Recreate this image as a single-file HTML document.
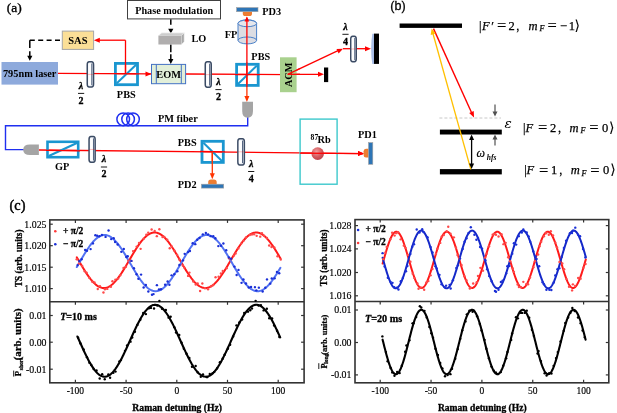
<!DOCTYPE html>
<html><head><meta charset="utf-8"><title>Figure</title>
<style>html,body{margin:0;padding:0;background:#fff;}svg{display:block;}</style></head>
<body><svg width="617" height="413" viewBox="0 0 617 413">
<rect width="617" height="413" fill="#fff"/>
<text x="6.70" y="11.90" font-family='"Liberation Serif", "Times New Roman", serif' font-size="13.5" font-weight="normal" text-anchor="start" fill="#000" stroke="#000" stroke-width="0.35">(a)</text>
<line x1="58.00" y1="73.40" x2="151.00" y2="73.90" stroke="#ff0000" stroke-width="1.3" />
<polygon points="151.50,73.90 145.50,76.40 145.50,71.40" fill="#ff0000"/>
<line x1="125.50" y1="73.60" x2="125.50" y2="40.20" stroke="#ff0000" stroke-width="1.3" />
<line x1="125.50" y1="40.20" x2="99.00" y2="40.20" stroke="#ff0000" stroke-width="1.3" />
<polygon points="93.80,40.20 99.80,37.70 99.80,42.70" fill="#ff0000"/>
<line x1="185.60" y1="74.00" x2="287.70" y2="74.60" stroke="#ff0000" stroke-width="1.3" />
<line x1="246.90" y1="74.60" x2="246.90" y2="21.00" stroke="#ff0000" stroke-width="1.3" />
<polygon points="246.90,16.80 249.40,22.80 244.40,22.80" fill="#ff0000"/>
<line x1="246.90" y1="74.60" x2="246.90" y2="97.00" stroke="#ff3300" stroke-width="1.3" />
<polygon points="246.90,102.00 244.40,96.00 249.40,96.00" fill="#ff3300"/>
<line x1="287.70" y1="74.30" x2="320.00" y2="74.30" stroke="#ff0000" stroke-width="1.3" />
<polygon points="324.00,74.30 318.00,76.80 318.00,71.80" fill="#ff0000"/>
<line x1="287.70" y1="74.30" x2="338.00" y2="50.60" stroke="#ff0000" stroke-width="1.3" />
<polygon points="343.00,48.70 338.61,53.49 336.50,48.95" fill="#ff0000"/>
<line x1="343.00" y1="48.70" x2="366.00" y2="48.70" stroke="#ff0000" stroke-width="1.3" />
<polygon points="371.00,48.70 365.00,51.20 365.00,46.20" fill="#ff0000"/>
<line x1="38.90" y1="150.00" x2="363.00" y2="153.60" stroke="#ff0000" stroke-width="1.3" />
<polygon points="364.00,153.60 357.98,156.05 358.02,151.05" fill="#ff0000"/>
<line x1="212.30" y1="151.70" x2="212.30" y2="174.00" stroke="#ff3300" stroke-width="1.3" />
<polygon points="212.30,179.20 209.80,173.20 214.80,173.20" fill="#ff3300"/>
<line x1="29.8" y1="40.2" x2="62.3" y2="40.2" stroke="#000" stroke-width="1.5" stroke-dasharray="5,3.4"/>
<line x1="29.8" y1="40.2" x2="29.8" y2="48" stroke="#000" stroke-width="1.5"/>
<line x1="29.80" y1="51.30" x2="29.80" y2="57.00" stroke="#000" stroke-width="1.5" />
<polygon points="29.80,60.80 27.20,55.80 32.40,55.80" fill="#000"/>
<line x1="170.80" y1="19.20" x2="170.80" y2="24.70" stroke="#000" stroke-width="1.5" />
<polygon points="170.80,33.60 168.20,28.80 173.40,28.80" fill="#000"/>
<line x1="170.80" y1="44.50" x2="170.80" y2="52.30" stroke="#000" stroke-width="1.5" />
<line x1="170.80" y1="54.20" x2="170.80" y2="60.00" stroke="#000" stroke-width="1.5" />
<polygon points="170.80,64.10 168.20,59.10 173.40,59.10" fill="#000"/>
<rect x="62.30" y="31.10" width="31.30" height="18.30" fill="#fbdf97" stroke="#a6a6a6" stroke-width="1" />
<text x="77.90" y="44.00" font-family='"Liberation Serif", "Times New Roman", serif' font-size="10.5" font-weight="bold" text-anchor="middle" fill="#000" >SAS</text>
<rect x="1.50" y="62.00" width="56.50" height="22.60" fill="#8eaadc" stroke="none" stroke-width="1" />
<text x="29.70" y="77.30" font-family='"Liberation Serif", "Times New Roman", serif' font-size="10.3" font-weight="bold" text-anchor="middle" fill="#000" >795nm laser</text>
<rect x="127.50" y="0.50" width="93.00" height="18.40" fill="#fff" stroke="#404040" stroke-width="1" />
<text x="174.20" y="13.80" font-family='"Liberation Serif", "Times New Roman", serif' font-size="10.8" font-weight="bold" text-anchor="middle" fill="#000" textLength="78" lengthAdjust="spacingAndGlyphs">Phase modulation</text>
<defs><linearGradient id="lotop" x1="0" y1="0" x2="0" y2="1"><stop offset="0" stop-color="#d9d9d9"/><stop offset="1" stop-color="#c4c4c4"/></linearGradient></defs>
<polygon points="158.4,35.7 161.8,32.7 184.2,32.7 181.3,35.7" fill="url(#lotop)" stroke="#f4f4f4" stroke-width="0.5"/>
<polygon points="181.3,35.7 184.2,32.7 184.2,41.8 181.3,44.5" fill="#a9a9a9" stroke="#f4f4f4" stroke-width="0.5"/>
<rect x="158.40" y="35.70" width="22.90" height="8.80" fill="#b0aeae" stroke="none" stroke-width="1" />
<text x="191.50" y="42.10" font-family='"Liberation Serif", "Times New Roman", serif' font-size="10.3" font-weight="bold" text-anchor="start" fill="#000" >LO</text>
<rect x="87.25" y="61.65" width="6.30" height="25.40" rx="1.9" ry="3.0" fill="#e9edf4" stroke="#3b4b64" stroke-width="1.5"/>
<rect x="88.30" y="63.40" width="2.96" height="21.90" fill="#ffffff" opacity="0.9"/>
<line x1="91.80" y1="63.50" x2="91.80" y2="85.20" stroke="#52637f" stroke-width="1.0"/>
<line x1="87.50" y1="74.35" x2="93.30" y2="74.35" stroke="#ff0000" stroke-width="1.0" stroke-opacity="0.25"/>
<rect x="205.25" y="61.85" width="6.00" height="25.50" rx="1.9" ry="3.0" fill="#e9edf4" stroke="#3b4b64" stroke-width="1.5"/>
<rect x="206.30" y="63.60" width="2.85" height="22.00" fill="#ffffff" opacity="0.9"/>
<line x1="209.60" y1="63.70" x2="209.60" y2="85.50" stroke="#52637f" stroke-width="1.0"/>
<line x1="205.50" y1="74.60" x2="211.00" y2="74.60" stroke="#ff0000" stroke-width="1.0" stroke-opacity="0.25"/>
<rect x="350.75" y="36.15" width="5.50" height="25.70" rx="1.9" ry="3.0" fill="#e9edf4" stroke="#3b4b64" stroke-width="1.5"/>
<rect x="351.80" y="37.90" width="2.66" height="22.20" fill="#ffffff" opacity="0.9"/>
<line x1="354.76" y1="38.00" x2="354.76" y2="60.00" stroke="#52637f" stroke-width="1.0"/>
<line x1="351.00" y1="49.00" x2="356.00" y2="49.00" stroke="#ff0000" stroke-width="1.0" stroke-opacity="0.25"/>
<rect x="89.05" y="136.55" width="6.10" height="25.80" rx="1.9" ry="3.0" fill="#e9edf4" stroke="#3b4b64" stroke-width="1.5"/>
<rect x="90.10" y="138.30" width="2.89" height="22.30" fill="#ffffff" opacity="0.9"/>
<line x1="93.47" y1="138.40" x2="93.47" y2="160.50" stroke="#52637f" stroke-width="1.0"/>
<line x1="89.30" y1="149.45" x2="94.90" y2="149.45" stroke="#ff0000" stroke-width="1.0" stroke-opacity="0.25"/>
<rect x="237.85" y="138.75" width="6.50" height="26.20" rx="1.9" ry="3.0" fill="#e9edf4" stroke="#3b4b64" stroke-width="1.5"/>
<rect x="238.90" y="140.50" width="3.04" height="22.70" fill="#ffffff" opacity="0.9"/>
<line x1="242.54" y1="140.60" x2="242.54" y2="163.10" stroke="#52637f" stroke-width="1.0"/>
<line x1="238.10" y1="151.85" x2="244.10" y2="151.85" stroke="#ff0000" stroke-width="1.0" stroke-opacity="0.25"/>
<text x="81.10" y="88.70" font-family='"Liberation Serif", "Times New Roman", serif' font-size="10" font-weight="bold" font-style="italic" text-anchor="middle" fill="#000" stroke="#000" stroke-width="0.3">&#955;</text>
<line x1="78.00" y1="93.40" x2="84.20" y2="93.40" stroke="#000" stroke-width="0.9"/>
<text x="81.10" y="103.60" font-family='"Liberation Serif", "Times New Roman", serif' font-size="10" font-weight="bold" text-anchor="middle" fill="#000" stroke="#000" stroke-width="0.3">2</text>
<text x="218.50" y="84.90" font-family='"Liberation Serif", "Times New Roman", serif' font-size="10" font-weight="bold" font-style="italic" text-anchor="middle" fill="#000" stroke="#000" stroke-width="0.3">&#955;</text>
<line x1="215.40" y1="89.60" x2="221.60" y2="89.60" stroke="#000" stroke-width="0.9"/>
<text x="218.50" y="99.80" font-family='"Liberation Serif", "Times New Roman", serif' font-size="10" font-weight="bold" text-anchor="middle" fill="#000" stroke="#000" stroke-width="0.3">2</text>
<text x="345.50" y="29.60" font-family='"Liberation Serif", "Times New Roman", serif' font-size="10" font-weight="bold" font-style="italic" text-anchor="middle" fill="#000" stroke="#000" stroke-width="0.3">&#955;</text>
<line x1="342.40" y1="34.30" x2="348.60" y2="34.30" stroke="#000" stroke-width="0.9"/>
<text x="345.50" y="44.50" font-family='"Liberation Serif", "Times New Roman", serif' font-size="10" font-weight="bold" text-anchor="middle" fill="#000" stroke="#000" stroke-width="0.3">4</text>
<text x="104.00" y="162.30" font-family='"Liberation Serif", "Times New Roman", serif' font-size="10" font-weight="bold" font-style="italic" text-anchor="middle" fill="#000" stroke="#000" stroke-width="0.3">&#955;</text>
<line x1="100.90" y1="167.00" x2="107.10" y2="167.00" stroke="#000" stroke-width="0.9"/>
<text x="104.00" y="177.20" font-family='"Liberation Serif", "Times New Roman", serif' font-size="10" font-weight="bold" text-anchor="middle" fill="#000" stroke="#000" stroke-width="0.3">2</text>
<text x="251.20" y="166.80" font-family='"Liberation Serif", "Times New Roman", serif' font-size="10" font-weight="bold" font-style="italic" text-anchor="middle" fill="#000" stroke="#000" stroke-width="0.3">&#955;</text>
<line x1="248.10" y1="171.50" x2="254.30" y2="171.50" stroke="#000" stroke-width="0.9"/>
<text x="251.20" y="181.70" font-family='"Liberation Serif", "Times New Roman", serif' font-size="10" font-weight="bold" text-anchor="middle" fill="#000" stroke="#000" stroke-width="0.3">4</text>
<rect x="115.40" y="63.40" width="22.10" height="21.30" fill="none" stroke="#1a96d0" stroke-width="2.8"/>
<line x1="116.80" y1="83.30" x2="136.10" y2="64.80" stroke="#1a96d0" stroke-width="2.0" />
<rect x="236.60" y="64.30" width="21.60" height="21.10" fill="none" stroke="#1a96d0" stroke-width="2.8"/>
<line x1="238.00" y1="84.00" x2="256.80" y2="65.70" stroke="#1a96d0" stroke-width="2.0" />
<rect x="202.00" y="141.30" width="21.30" height="21.10" fill="none" stroke="#1a96d0" stroke-width="2.8"/>
<line x1="203.40" y1="142.70" x2="221.90" y2="161.00" stroke="#1a96d0" stroke-width="2.0" />
<rect x="47.50" y="141.80" width="30.70" height="15.40" fill="none" stroke="#1a96d0" stroke-width="2.6"/>
<line x1="48.80" y1="156.00" x2="76.90" y2="143.00" stroke="#1a96d0" stroke-width="2.0" />
<line x1="114.00" y1="73.70" x2="139.00" y2="73.80" stroke="#ff0000" stroke-width="1.3" />
<line x1="125.50" y1="62.00" x2="125.50" y2="74.00" stroke="#ff0000" stroke-width="1.3" />
<line x1="235.00" y1="74.60" x2="260.00" y2="74.60" stroke="#ff0000" stroke-width="1.3" />
<line x1="246.90" y1="62.50" x2="246.90" y2="87.00" stroke="#ff0000" stroke-width="1.3" />
<line x1="46.00" y1="150.40" x2="80.00" y2="150.80" stroke="#ff0000" stroke-width="1.3" />
<line x1="200.00" y1="151.50" x2="225.00" y2="151.80" stroke="#ff0000" stroke-width="1.3" />
<line x1="212.30" y1="151.70" x2="212.30" y2="164.00" stroke="#ff3300" stroke-width="1.3" />
<text x="126.3" y="98.1" font-family='"Liberation Serif", "Times New Roman", serif' font-size="10.3" font-weight="bold" text-anchor="middle">PBS</text>
<text x="260.80" y="60.20" font-family='"Liberation Serif", "Times New Roman", serif' font-size="10.3" font-weight="bold" text-anchor="middle" fill="#000" >PBS</text>
<text x="187.20" y="146.00" font-family='"Liberation Serif", "Times New Roman", serif' font-size="10.3" font-weight="bold" text-anchor="middle" fill="#000" >PBS</text>
<text x="62.10" y="170.30" font-family='"Liberation Serif", "Times New Roman", serif' font-size="10.3" font-weight="bold" text-anchor="middle" fill="#000" >GP</text>
<rect x="151.50" y="64.40" width="34.10" height="19.30" fill="#e2efd9" stroke="#4472c4" stroke-width="1" />
<line x1="156.30" y1="64.40" x2="156.30" y2="83.70" stroke="#4472c4" stroke-width="1" />
<line x1="181.30" y1="64.40" x2="181.30" y2="83.70" stroke="#4472c4" stroke-width="1" />
<text x="168.60" y="77.80" font-family='"Liberation Serif", "Times New Roman", serif' font-size="10.3" font-weight="bold" text-anchor="middle" fill="#000" >EOM</text>
<path d="M238,23.4 L238,40.3 A9.3,3.6 0 0 0 256.6,40.3 L256.6,23.4 A9.3,3.6 0 0 0 238,23.4 Z" fill="#dcdde3" stroke="#4a80c8" stroke-width="1"/>
<ellipse cx="247.3" cy="23.4" rx="9.3" ry="3.3" fill="#e6e7ec" stroke="#4a80c8" stroke-width="1"/>
<path d="M238,40.3 A9.3,3.3 0 0 1 256.6,40.3" fill="none" stroke="#4a80c8" stroke-width="1"/>
<line x1="246.90" y1="44.00" x2="246.90" y2="21.00" stroke="#ff0000" stroke-width="1.3" />
<polygon points="246.90,16.60 249.20,21.60 244.60,21.60" fill="#ff0000"/>
<text x="231.00" y="38.20" font-family='"Liberation Serif", "Times New Roman", serif' font-size="10.3" font-weight="bold" text-anchor="middle" fill="#000" >FP</text>
<path d="M242.8,11.7 L252,11.7 L252,13.5 Q252,16.1 249.4,16.1 L245.4,16.1 Q242.8,16.1 242.8,13.5 Z" fill="#ed7d31"/>
<rect x="236.60" y="7.60" width="21.40" height="4.10" fill="#2e75b6" stroke="#a0a0a0" stroke-width="0.6" />
<text x="271.60" y="14.70" font-family='"Liberation Serif", "Times New Roman", serif' font-size="10.3" font-weight="bold" text-anchor="middle" fill="#000" >PD3</text>
<rect x="280.00" y="57.30" width="16.60" height="34.90" fill="#a9d18e" stroke="none" stroke-width="1" />
<text x="0.00" y="0.00" font-family='"Liberation Serif", "Times New Roman", serif' font-size="10.3" font-weight="bold" text-anchor="middle" fill="#000" transform="translate(292.3,74.8) rotate(-90)">ACM</text>
<line x1="287.70" y1="74.30" x2="300.00" y2="74.30" stroke="#ff0000" stroke-width="1.3" />
<line x1="287.70" y1="74.30" x2="300.00" y2="68.50" stroke="#ff0000" stroke-width="1.3" />
<rect x="324.00" y="67.50" width="4.20" height="14.60" fill="#000" stroke="none" stroke-width="1" />
<path d="M374.5,33.7 L372.3,33.7 Q370,48.9 372.3,64.1 L374.5,64.1 Z" fill="#a8bde6"/>
<rect x="374.00" y="33.60" width="5.00" height="30.30" fill="#000" stroke="none" stroke-width="1" />
<polyline points="247.7,117 247.7,125.7 5.5,125.7 5.5,149.6 24,149.6" fill="none" stroke="#1f2ff0" stroke-width="1.4"/>
<ellipse cx="123.2" cy="119.3" rx="6.3" ry="6.4" fill="none" stroke="#1f2ff0" stroke-width="1.5"/>
<ellipse cx="128.1" cy="119.3" rx="6.3" ry="6.4" fill="none" stroke="#1f2ff0" stroke-width="1.5"/>
<ellipse cx="133.0" cy="119.3" rx="6.3" ry="6.4" fill="none" stroke="#1f2ff0" stroke-width="1.5"/>
<text x="177.90" y="121.70" font-family='"Liberation Serif", "Times New Roman", serif' font-size="10.3" font-weight="bold" text-anchor="middle" fill="#000" >PM fiber</text>
<path d="M242.2,101.8 L253,101.8 L253,111 Q253,117.8 247.6,117.8 Q242.2,117.8 242.2,111 Z" fill="#a5a5a5"/>
<path d="M38.9,144.5 L38.9,155.1 L30,155.1 Q23.2,155.1 23.2,149.8 Q23.2,144.5 30,144.5 Z" fill="#a5a5a5"/>
<path d="M208.2,183.9 L208.2,182 Q208.2,179.4 211,179.4 L213.9,179.4 Q216.7,179.4 216.7,182 L216.7,183.9 Z" fill="#ed7d31"/>
<rect x="201.40" y="184.20" width="22.30" height="3.90" fill="#2e75b6" stroke="#a0a0a0" stroke-width="0.6" />
<text x="187.20" y="188.30" font-family='"Liberation Serif", "Times New Roman", serif' font-size="10.3" font-weight="bold" text-anchor="middle" fill="#000" >PD2</text>
<rect x="300.10" y="119.10" width="37.00" height="65.10" fill="none" stroke="#3cc8cc" stroke-width="1.4" />
<defs><radialGradient id="rb" cx="0.4" cy="0.35" r="0.7"><stop offset="0" stop-color="#f0a0a0"/><stop offset="0.6" stop-color="#d45a5e"/><stop offset="1" stop-color="#b84048"/></radialGradient></defs>
<circle cx="317.7" cy="153.6" r="6.3" fill="url(#rb)"/>
<line x1="300.00" y1="153.10" x2="363.00" y2="153.60" stroke="#ff0000" stroke-width="1.3" />
<polygon points="364.00,153.60 357.98,156.05 358.02,151.05" fill="#ff0000"/>
<text x="310.60" y="139.60" font-family='"Liberation Serif", "Times New Roman", serif' font-size="7.6" font-weight="bold" text-anchor="start" fill="#000" >87</text>
<text x="324.20" y="143.30" font-family='"Liberation Serif", "Times New Roman", serif' font-size="10.3" font-weight="bold" text-anchor="middle" fill="#000" >Rb</text>
<path d="M368.5,148.8 L366,148.8 Q363.6,148.8 363.6,151.3 L363.6,155 Q363.6,157.5 366,157.5 L368.5,157.5 Z" fill="#ed7d31"/>
<rect x="368.50" y="142.60" width="4.30" height="21.70" fill="#2e75b6" stroke="#a0a0a0" stroke-width="0.6" />
<text x="367.50" y="138.10" font-family='"Liberation Serif", "Times New Roman", serif' font-size="10.3" font-weight="bold" text-anchor="middle" fill="#000" >PD1</text>
<text x="390.30" y="9.60" font-family='"Liberation Sans", Arial, sans-serif' font-size="12.5" font-weight="normal" text-anchor="start" fill="#000" stroke="#000" stroke-width="0.3">(b)</text>
<rect x="399.60" y="23.50" width="62.40" height="4.40" fill="#000" stroke="none" stroke-width="1" />
<rect x="439.90" y="129.60" width="61.90" height="4.90" fill="#000" stroke="none" stroke-width="1" />
<rect x="439.90" y="169.10" width="61.90" height="5.30" fill="#000" stroke="none" stroke-width="1" />
<line x1="439.4" y1="118" x2="501" y2="118" stroke="#c8c8c8" stroke-width="1" stroke-dasharray="3,2"/>
<line x1="433.50" y1="28.60" x2="471.50" y2="112.50" stroke="#ff0000" stroke-width="1.4" />
<polygon points="474.00,117.40 469.19,113.03 473.72,110.91" fill="#ff0000"/>
<line x1="432.80" y1="33.00" x2="470.80" y2="169.40" stroke="#ffc000" stroke-width="1.3" />
<polygon points="431.60,28.40 435.71,33.48 430.70,34.88" fill="#ffc000"/>
<line x1="471.60" y1="139.00" x2="471.60" y2="165.00" stroke="#000" stroke-width="1.3" />
<polygon points="471.60,134.60 474.10,140.10 469.10,140.10" fill="#000"/>
<polygon points="471.60,169.10 469.10,163.60 474.10,163.60" fill="#000"/>
<line x1="495.00" y1="104.60" x2="495.00" y2="112.00" stroke="#505050" stroke-width="1.2" />
<polygon points="495.00,116.40 492.50,111.40 497.50,111.40" fill="#505050"/>
<line x1="495.00" y1="145.40" x2="495.00" y2="138.00" stroke="#505050" stroke-width="1.2" />
<polygon points="495.00,134.60 497.50,139.60 492.50,139.60" fill="#505050"/>
<text x="504.40" y="127.60" font-family='"DejaVu Serif", serif' font-size="13.5" font-weight="normal" font-style="italic" text-anchor="start" fill="#000" >&#949;</text>
<text x="476.60" y="157.20" font-family='"Liberation Serif", "Times New Roman", serif' font-size="12" font-weight="normal" font-style="italic" text-anchor="start" fill="#000" stroke="#000" stroke-width="0.2">&#969;</text>
<text x="486.80" y="159.80" font-family='"Liberation Serif", "Times New Roman", serif' font-size="7.5" font-weight="bold" font-style="italic" text-anchor="start" fill="#000" >hfs</text>
<text font-family='"Liberation Serif", "DejaVu Serif", serif' font-size="12.5" fill="#000" stroke="#000" stroke-width="0.25"><tspan x="479.10" y="29.60" >|</tspan><tspan x="482.10" y="29.60" font-style="italic">F</tspan><tspan x="491.20" y="29.60" >&#8242;</tspan><tspan x="497.10" y="31.30" font-size="16.5" stroke-width="0.1">=</tspan><tspan x="508.50" y="29.60" >2</tspan><tspan x="515.90" y="29.60" font-family="Noto Serif CJK SC, serif" font-size="11">，</tspan><tspan x="528.40" y="29.60" font-style="italic">m</tspan><tspan x="539.40" y="31.40" font-style="italic" font-size="8">F</tspan><tspan x="547.40" y="31.30" font-size="16.5" stroke-width="0.1">=</tspan><tspan x="559.90" y="29.60" >&#8722;</tspan><tspan x="568.70" y="29.60" >1</tspan><tspan x="574.40" y="29.60" font-family="DejaVu Serif" font-size="14" stroke-width="0.1">&#10217;</tspan></text>
<text font-family='"Liberation Serif", "DejaVu Serif", serif' font-size="12.5" fill="#000" stroke="#000" stroke-width="0.25"><tspan x="523.10" y="131.60" >|</tspan><tspan x="525.50" y="131.60" font-style="italic">F</tspan><tspan x="538.00" y="133.30" font-size="16.5" stroke-width="0.1">=</tspan><tspan x="550.00" y="131.60" >2</tspan><tspan x="557.80" y="131.60" font-family="Noto Serif CJK SC, serif" font-size="11">，</tspan><tspan x="569.60" y="131.60" font-style="italic">m</tspan><tspan x="580.50" y="133.40" font-style="italic" font-size="8">F</tspan><tspan x="589.20" y="133.30" font-size="16.5" stroke-width="0.1">=</tspan><tspan x="602.00" y="131.60" >0</tspan><tspan x="609.10" y="131.60" font-family="DejaVu Serif" font-size="14" stroke-width="0.1">&#10217;</tspan></text>
<text font-family='"Liberation Serif", "DejaVu Serif", serif' font-size="12.5" fill="#000" stroke="#000" stroke-width="0.25"><tspan x="524.20" y="174.10" >|</tspan><tspan x="526.60" y="174.10" font-style="italic">F</tspan><tspan x="539.10" y="175.80" font-size="16.5" stroke-width="0.1">=</tspan><tspan x="551.10" y="174.10" >1</tspan><tspan x="558.90" y="174.10" font-family="Noto Serif CJK SC, serif" font-size="11">，</tspan><tspan x="570.70" y="174.10" font-style="italic">m</tspan><tspan x="581.60" y="175.90" font-style="italic" font-size="8">F</tspan><tspan x="590.30" y="175.80" font-size="16.5" stroke-width="0.1">=</tspan><tspan x="603.10" y="174.10" >0</tspan><tspan x="610.20" y="174.10" font-family="DejaVu Serif" font-size="14" stroke-width="0.1">&#10217;</tspan></text>
<text x="9.60" y="210.10" font-family='"Liberation Serif", "Times New Roman", serif' font-size="14.3" font-weight="normal" text-anchor="start" fill="#000" stroke="#000" stroke-width="0.45">(c)</text>
<rect x="49.8" y="219.9" width="254.3" height="162.9" fill="none" stroke="#333" stroke-width="1.6"/>
<line x1="49.80" y1="301.80" x2="304.10" y2="301.80" stroke="#333" stroke-width="1.5" />
<line x1="75.40" y1="219.90" x2="75.40" y2="222.90" stroke="#333" stroke-width="1.2" />
<line x1="75.40" y1="301.80" x2="75.40" y2="304.80" stroke="#333" stroke-width="1.2" />
<line x1="75.40" y1="382.80" x2="75.40" y2="379.80" stroke="#333" stroke-width="1.2" />
<text x="75.40" y="394.30" font-family='"Liberation Serif", "Times New Roman", serif' font-size="9.5" font-weight="normal" text-anchor="middle" fill="#000" stroke="#000" stroke-width="0.15">-100</text>
<line x1="126.10" y1="219.90" x2="126.10" y2="222.90" stroke="#333" stroke-width="1.2" />
<line x1="126.10" y1="301.80" x2="126.10" y2="304.80" stroke="#333" stroke-width="1.2" />
<line x1="126.10" y1="382.80" x2="126.10" y2="379.80" stroke="#333" stroke-width="1.2" />
<text x="126.10" y="394.30" font-family='"Liberation Serif", "Times New Roman", serif' font-size="9.5" font-weight="normal" text-anchor="middle" fill="#000" stroke="#000" stroke-width="0.15">-50</text>
<line x1="176.80" y1="219.90" x2="176.80" y2="222.90" stroke="#333" stroke-width="1.2" />
<line x1="176.80" y1="301.80" x2="176.80" y2="304.80" stroke="#333" stroke-width="1.2" />
<line x1="176.80" y1="382.80" x2="176.80" y2="379.80" stroke="#333" stroke-width="1.2" />
<text x="176.80" y="394.30" font-family='"Liberation Serif", "Times New Roman", serif' font-size="9.5" font-weight="normal" text-anchor="middle" fill="#000" stroke="#000" stroke-width="0.15">0</text>
<line x1="227.50" y1="219.90" x2="227.50" y2="222.90" stroke="#333" stroke-width="1.2" />
<line x1="227.50" y1="301.80" x2="227.50" y2="304.80" stroke="#333" stroke-width="1.2" />
<line x1="227.50" y1="382.80" x2="227.50" y2="379.80" stroke="#333" stroke-width="1.2" />
<text x="227.50" y="394.30" font-family='"Liberation Serif", "Times New Roman", serif' font-size="9.5" font-weight="normal" text-anchor="middle" fill="#000" stroke="#000" stroke-width="0.15">50</text>
<line x1="278.20" y1="219.90" x2="278.20" y2="222.90" stroke="#333" stroke-width="1.2" />
<line x1="278.20" y1="301.80" x2="278.20" y2="304.80" stroke="#333" stroke-width="1.2" />
<line x1="278.20" y1="382.80" x2="278.20" y2="379.80" stroke="#333" stroke-width="1.2" />
<text x="278.20" y="394.30" font-family='"Liberation Serif", "Times New Roman", serif' font-size="9.5" font-weight="normal" text-anchor="middle" fill="#000" stroke="#000" stroke-width="0.15">100</text>
<line x1="49.80" y1="224.20" x2="52.80" y2="224.20" stroke="#333" stroke-width="1.2" />
<line x1="304.10" y1="224.20" x2="301.10" y2="224.20" stroke="#333" stroke-width="1.2" />
<text x="46.50" y="227.60" font-family='"Liberation Serif", "Times New Roman", serif' font-size="9.9" font-weight="normal" text-anchor="end" fill="#000" stroke="#000" stroke-width="0.15">1.025</text>
<line x1="49.80" y1="245.70" x2="52.80" y2="245.70" stroke="#333" stroke-width="1.2" />
<line x1="304.10" y1="245.70" x2="301.10" y2="245.70" stroke="#333" stroke-width="1.2" />
<text x="46.50" y="249.10" font-family='"Liberation Serif", "Times New Roman", serif' font-size="9.9" font-weight="normal" text-anchor="end" fill="#000" stroke="#000" stroke-width="0.15">1.020</text>
<line x1="49.80" y1="267.20" x2="52.80" y2="267.20" stroke="#333" stroke-width="1.2" />
<line x1="304.10" y1="267.20" x2="301.10" y2="267.20" stroke="#333" stroke-width="1.2" />
<text x="46.50" y="270.60" font-family='"Liberation Serif", "Times New Roman", serif' font-size="9.9" font-weight="normal" text-anchor="end" fill="#000" stroke="#000" stroke-width="0.15">1.015</text>
<line x1="49.80" y1="288.60" x2="52.80" y2="288.60" stroke="#333" stroke-width="1.2" />
<line x1="304.10" y1="288.60" x2="301.10" y2="288.60" stroke="#333" stroke-width="1.2" />
<text x="46.50" y="292.00" font-family='"Liberation Serif", "Times New Roman", serif' font-size="9.9" font-weight="normal" text-anchor="end" fill="#000" stroke="#000" stroke-width="0.15">1.010</text>
<line x1="49.80" y1="315.50" x2="52.80" y2="315.50" stroke="#333" stroke-width="1.2" />
<line x1="304.10" y1="315.50" x2="301.10" y2="315.50" stroke="#333" stroke-width="1.2" />
<text x="46.50" y="318.90" font-family='"Liberation Serif", "Times New Roman", serif' font-size="9.9" font-weight="normal" text-anchor="end" fill="#000" stroke="#000" stroke-width="0.15">0.01</text>
<line x1="49.80" y1="342.20" x2="52.80" y2="342.20" stroke="#333" stroke-width="1.2" />
<line x1="304.10" y1="342.20" x2="301.10" y2="342.20" stroke="#333" stroke-width="1.2" />
<text x="46.50" y="345.60" font-family='"Liberation Serif", "Times New Roman", serif' font-size="9.9" font-weight="normal" text-anchor="end" fill="#000" stroke="#000" stroke-width="0.15">0.00</text>
<line x1="49.80" y1="369.20" x2="52.80" y2="369.20" stroke="#333" stroke-width="1.2" />
<line x1="304.10" y1="369.20" x2="301.10" y2="369.20" stroke="#333" stroke-width="1.2" />
<text x="46.50" y="372.60" font-family='"Liberation Serif", "Times New Roman", serif' font-size="9.9" font-weight="normal" text-anchor="end" fill="#000" stroke="#000" stroke-width="0.15">-0.01</text>
<text x="132.30" y="410.90" font-family='"Liberation Serif", "Times New Roman", serif' font-size="9.4" font-weight="bold" text-anchor="start" fill="#000" stroke="#000" stroke-width="0.3" textLength="89.8" lengthAdjust="spacingAndGlyphs">Raman detuning (Hz)</text>
<text x="-287.10" y="22.00" font-family='"Liberation Serif", "Times New Roman", serif' font-size="9.6" font-weight="bold" text-anchor="start" fill="#000" stroke="#000" stroke-width="0.3" transform="rotate(-90)" textLength="57.6" lengthAdjust="spacingAndGlyphs">TS (arb. units)</text>
<text transform="rotate(-90)" y="21.2" font-family='"Liberation Serif", "Times New Roman", serif' font-size="9.4" font-weight="bold" stroke="#000" stroke-width="0.25"><tspan x="-376.2" font-size="8.6">P</tspan><tspan x="-370.2" font-size="5.4" dy="1.3">short</tspan><tspan x="-360.3" dy="-1.3" textLength="52" lengthAdjust="spacingAndGlyphs">(arb. units)</tspan></text>
<line x1="13.70" y1="370.60" x2="13.70" y2="376.60" stroke="#000" stroke-width="0.9" />
<circle cx="55.3" cy="231.2" r="1.3" fill="#ff3b3b"/>
<circle cx="55.3" cy="244.2" r="1.3" fill="#1a2fd6"/>
<text x="62.90" y="233.60" font-family='"Liberation Serif", "Times New Roman", serif' font-size="9.5" font-weight="bold" text-anchor="start" fill="#000" stroke="#000" stroke-width="0.3">+ &#960;/2</text>
<text x="62.90" y="246.60" font-family='"Liberation Serif", "Times New Roman", serif' font-size="9.5" font-weight="bold" text-anchor="start" fill="#000" stroke="#000" stroke-width="0.3">&#8722; &#960;/2</text>
<text x="60.20" y="319.70" font-family='"Liberation Serif", "Times New Roman", serif' font-size="9.8" font-weight="bold" text-anchor="start" fill="#000" stroke="#000" stroke-width="0.3" textLength="36.6" lengthAdjust="spacingAndGlyphs"><tspan font-style="italic">T</tspan>=10 ms</text>
<polyline points="76.80,257.29 77.48,258.45 78.16,259.62 78.84,260.78 79.51,261.95 80.19,263.11 80.87,264.27 81.55,265.42 82.23,266.56 82.91,267.69 83.59,268.80 84.27,269.90 84.94,270.99 85.62,272.05 86.30,273.10 86.98,274.12 87.66,275.12 88.34,276.09 89.02,277.03 89.69,277.94 90.37,278.83 91.05,279.68 91.73,280.49 92.41,281.27 93.09,282.01 93.77,282.72 94.45,283.38 95.12,284.00 95.80,284.59 96.48,285.12 97.16,285.62 97.84,286.07 98.52,286.47 99.20,286.83 99.87,287.14 100.55,287.41 101.23,287.62 101.91,287.79 102.59,287.91 103.27,287.98 103.95,288.00 104.63,287.97 105.30,287.90 105.98,287.77 106.66,287.60 107.34,287.37 108.02,287.10 108.70,286.79 109.38,286.42 110.05,286.01 110.73,285.55 111.41,285.05 112.09,284.51 112.77,283.92 113.45,283.29 114.13,282.62 114.81,281.91 115.48,281.17 116.16,280.38 116.84,279.56 117.52,278.71 118.20,277.82 118.88,276.90 119.56,275.96 120.23,274.98 120.91,273.98 121.59,272.96 122.27,271.91 122.95,270.84 123.63,269.75 124.31,268.65 124.99,267.53 125.66,266.40 126.34,265.26 127.02,264.11 127.70,262.95 128.38,261.79 129.06,260.62 129.74,259.46 130.41,258.29 131.09,257.13 131.77,255.98 132.45,254.83 133.13,253.69 133.81,252.56 134.49,251.45 135.17,250.35 135.84,249.27 136.52,248.21 137.20,247.17 137.88,246.16 138.56,245.17 139.24,244.20 139.92,243.26 140.59,242.36 141.27,241.48 141.95,240.64 142.63,239.83 143.31,239.06 143.99,238.33 144.67,237.63 145.35,236.98 146.02,236.36 146.70,235.79 147.38,235.26 148.06,234.78 148.74,234.34 149.42,233.94 150.10,233.60 150.77,233.29 151.45,233.04 152.13,232.84 152.81,232.68 153.49,232.57 154.17,232.51 154.85,232.50 155.53,232.54 156.20,232.63 156.88,232.76 157.56,232.95 158.24,233.18 158.92,233.46 159.60,233.79 160.28,234.17 160.95,234.59 161.63,235.05 162.31,235.56 162.99,236.12 163.67,236.71 164.35,237.35 165.03,238.03 165.71,238.75 166.38,239.50 167.06,240.30 167.74,241.12 168.42,241.99 169.10,242.88 169.78,243.80 170.46,244.76 171.13,245.74 171.81,246.74 172.49,247.77 173.17,248.83 173.85,249.90 174.53,250.99 175.21,252.10 175.89,253.22 176.56,254.35 177.24,255.49 177.92,256.65 178.60,257.81 179.28,258.97 179.96,260.13 180.64,261.30 181.31,262.46 181.99,263.62 182.67,264.78 183.35,265.92 184.03,267.06 184.71,268.18 185.39,269.29 186.07,270.39 186.74,271.46 187.42,272.52 188.10,273.55 188.78,274.56 189.46,275.55 190.14,276.51 190.82,277.44 191.49,278.34 192.17,279.21 192.85,280.04 193.53,280.84 194.21,281.60 194.89,282.33 195.57,283.02 196.25,283.66 196.92,284.27 197.60,284.83 198.28,285.35 198.96,285.82 199.64,286.25 200.32,286.64 201.00,286.98 201.67,287.27 202.35,287.51 203.03,287.70 203.71,287.85 204.39,287.95 205.07,287.99 205.75,287.99 206.43,287.94 207.10,287.85 207.78,287.70 208.46,287.50 209.14,287.26 209.82,286.97 210.50,286.63 211.18,286.24 211.85,285.81 212.53,285.34 213.21,284.82 213.89,284.25 214.57,283.65 215.25,283.00 215.93,282.31 216.61,281.59 217.28,280.82 217.96,280.02 218.64,279.19 219.32,278.32 220.00,277.42 220.68,276.49 221.36,275.53 222.03,274.54 222.71,273.53 223.39,272.50 224.07,271.44 224.75,270.36 225.43,269.27 226.11,268.16 226.79,267.03 227.46,265.90 228.14,264.75 228.82,263.60 229.50,262.44 230.18,261.27 230.86,260.11 231.54,258.94 232.21,257.78 232.89,256.62 233.57,255.47 234.25,254.33 234.93,253.19 235.61,252.07 236.29,250.96 236.97,249.87 237.64,248.80 238.32,247.75 239.00,246.72 239.68,245.72 240.36,244.74 241.04,243.78 241.72,242.86 242.39,241.97 243.07,241.11 243.75,240.28 244.43,239.49 245.11,238.73 245.79,238.02 246.47,237.34 247.15,236.70 247.82,236.10 248.50,235.55 249.18,235.04 249.86,234.58 250.54,234.16 251.22,233.78 251.90,233.46 252.57,233.18 253.25,232.94 253.93,232.76 254.61,232.63 255.29,232.54 255.97,232.50 256.65,232.51 257.33,232.57 258.00,232.68 258.68,232.84 259.36,233.05 260.04,233.30 260.72,233.60 261.40,233.95 262.08,234.35 262.75,234.79 263.43,235.27 264.11,235.80 264.79,236.38 265.47,236.99 266.15,237.65 266.83,238.34 267.51,239.08 268.18,239.85 268.86,240.66 269.54,241.50 270.22,242.38 270.90,243.28 271.58,244.22 272.26,245.19 272.93,246.18 273.61,247.20 274.29,248.24 274.97,249.30 275.65,250.38 276.33,251.48 277.01,252.59 277.69,253.72 278.36,254.85 279.04,256.00 279.72,257.16 280.40,258.32" fill="none" stroke="#ff1a1a" stroke-width="2.0" stroke-linejoin="round" stroke-linecap="round"/>
<polyline points="76.80,267.07 77.48,265.90 78.16,264.73 78.84,263.56 79.51,262.38 80.19,261.21 80.87,260.04 81.55,258.87 82.23,257.72 82.91,256.57 83.59,255.43 84.27,254.31 84.94,253.20 85.62,252.11 86.30,251.04 86.98,249.99 87.66,248.96 88.34,247.96 89.02,246.98 89.69,246.04 90.37,245.12 91.05,244.23 91.73,243.38 92.41,242.56 93.09,241.77 93.77,241.03 94.45,240.32 95.12,239.65 95.80,239.03 96.48,238.44 97.16,237.90 97.84,237.40 98.52,236.95 99.20,236.54 99.87,236.18 100.55,235.87 101.23,235.60 101.91,235.38 102.59,235.22 103.27,235.09 103.95,235.02 104.63,235.00 105.30,235.03 105.98,235.10 106.66,235.23 107.34,235.40 108.02,235.62 108.70,235.89 109.38,236.21 110.05,236.57 110.73,236.98 111.41,237.44 112.09,237.94 112.77,238.48 113.45,239.07 114.13,239.70 114.81,240.37 115.48,241.08 116.16,241.83 116.84,242.62 117.52,243.44 118.20,244.30 118.88,245.18 119.56,246.11 120.23,247.06 120.91,248.03 121.59,249.04 122.27,250.07 122.95,251.12 123.63,252.19 124.31,253.28 124.99,254.39 125.66,255.52 126.34,256.65 127.02,257.80 127.70,258.96 128.38,260.13 129.06,261.30 129.74,262.47 130.41,263.64 131.09,264.82 131.77,265.99 132.45,267.15 133.13,268.31 133.81,269.46 134.49,270.60 135.17,271.73 135.84,272.84 136.52,273.93 137.20,275.00 137.88,276.06 138.56,277.09 139.24,278.09 139.92,279.07 140.59,280.03 141.27,280.95 141.95,281.84 142.63,282.70 143.31,283.52 143.99,284.31 144.67,285.06 145.35,285.78 146.02,286.45 146.70,287.08 147.38,287.68 148.06,288.22 148.74,288.73 149.42,289.19 150.10,289.60 150.77,289.97 151.45,290.29 152.13,290.56 152.81,290.79 153.49,290.96 154.17,291.09 154.85,291.17 155.53,291.20 156.20,291.18 156.88,291.11 157.56,291.00 158.24,290.83 158.92,290.61 159.60,290.35 160.28,290.04 160.95,289.69 161.63,289.28 162.31,288.83 162.99,288.34 163.67,287.80 164.35,287.22 165.03,286.59 165.71,285.93 166.38,285.22 167.06,284.48 167.74,283.70 168.42,282.88 169.10,282.03 169.78,281.15 170.46,280.23 171.13,279.29 171.81,278.31 172.49,277.31 173.17,276.29 173.85,275.24 174.53,274.17 175.21,273.08 175.89,271.97 176.56,270.85 177.24,269.71 177.92,268.57 178.60,267.41 179.28,266.25 179.96,265.08 180.64,263.90 181.31,262.73 181.99,261.55 182.67,260.38 183.35,259.22 184.03,258.06 184.71,256.91 185.39,255.77 186.07,254.64 186.74,253.53 187.42,252.43 188.10,251.35 188.78,250.30 189.46,249.26 190.14,248.25 190.82,247.27 191.49,246.31 192.17,245.38 192.85,244.49 193.53,243.62 194.21,242.80 194.89,242.00 195.57,241.24 196.25,240.53 196.92,239.85 197.60,239.21 198.28,238.61 198.96,238.05 199.64,237.54 200.32,237.08 201.00,236.66 201.67,236.28 202.35,235.96 203.03,235.68 203.71,235.44 204.39,235.26 205.07,235.13 205.75,235.04 206.43,235.00 207.10,235.01 207.78,235.07 208.46,235.18 209.14,235.34 209.82,235.55 210.50,235.81 211.18,236.11 211.85,236.46 212.53,236.86 213.21,237.30 213.89,237.79 214.57,238.32 215.25,238.89 215.93,239.51 216.61,240.17 217.28,240.87 217.96,241.61 218.64,242.38 219.32,243.19 220.00,244.04 220.68,244.92 221.36,245.83 222.03,246.77 222.71,247.74 223.39,248.74 224.07,249.76 224.75,250.81 225.43,251.87 226.11,252.96 226.79,254.06 227.46,255.18 228.14,256.32 228.82,257.46 229.50,258.62 230.18,259.78 230.86,260.95 231.54,262.12 232.21,263.30 232.89,264.47 233.57,265.64 234.25,266.81 234.93,267.97 235.61,269.13 236.29,270.27 236.97,271.40 237.64,272.51 238.32,273.61 239.00,274.69 239.68,275.75 240.36,276.79 241.04,277.80 241.72,278.79 242.39,279.75 243.07,280.68 243.75,281.58 244.43,282.45 245.11,283.28 245.79,284.08 246.47,284.85 247.15,285.57 247.82,286.26 248.50,286.90 249.18,287.51 249.86,288.07 250.54,288.58 251.22,289.06 251.90,289.48 252.57,289.86 253.25,290.20 253.93,290.49 254.61,290.72 255.29,290.92 255.97,291.06 256.65,291.15 257.33,291.20 258.00,291.19 258.68,291.14 259.36,291.03 260.04,290.88 260.72,290.68 261.40,290.43 262.08,290.14 262.75,289.80 263.43,289.41 264.11,288.97 264.79,288.49 265.47,287.96 266.15,287.39 266.83,286.78 267.51,286.13 268.18,285.44 268.86,284.70 269.54,283.93 270.22,283.13 270.90,282.29 271.58,281.41 272.26,280.51 272.93,279.57 273.61,278.60 274.29,277.61 274.97,276.59 275.65,275.55 276.33,274.49 277.01,273.40 277.69,272.30 278.36,271.18 279.04,270.05 279.72,268.91 280.40,267.75" fill="none" stroke="#5272f2" stroke-width="2.0" stroke-linejoin="round" stroke-linecap="round"/>
<circle cx="76.72" cy="259.18" r="1.2" fill="#ff4a4a"/>
<circle cx="78.89" cy="263.70" r="1.2" fill="#ff4a4a"/>
<circle cx="82.20" cy="265.95" r="1.2" fill="#ff4a4a"/>
<circle cx="84.72" cy="271.25" r="1.2" fill="#ff4a4a"/>
<circle cx="86.54" cy="272.62" r="1.2" fill="#ff4a4a"/>
<circle cx="89.19" cy="277.64" r="1.2" fill="#ff4a4a"/>
<circle cx="92.30" cy="281.72" r="1.2" fill="#ff4a4a"/>
<circle cx="94.54" cy="282.38" r="1.2" fill="#ff4a4a"/>
<circle cx="97.76" cy="289.00" r="1.2" fill="#ff4a4a"/>
<circle cx="99.96" cy="286.16" r="1.2" fill="#ff4a4a"/>
<circle cx="103.46" cy="292.53" r="1.2" fill="#ff4a4a"/>
<circle cx="104.93" cy="289.31" r="1.2" fill="#ff4a4a"/>
<circle cx="107.27" cy="288.92" r="1.2" fill="#ff4a4a"/>
<circle cx="110.91" cy="286.82" r="1.2" fill="#ff4a4a"/>
<circle cx="112.46" cy="281.21" r="1.2" fill="#ff4a4a"/>
<circle cx="115.34" cy="279.65" r="1.2" fill="#ff4a4a"/>
<circle cx="118.19" cy="278.61" r="1.2" fill="#ff4a4a"/>
<circle cx="120.21" cy="275.34" r="1.2" fill="#ff4a4a"/>
<circle cx="123.54" cy="268.02" r="1.2" fill="#ff4a4a"/>
<circle cx="125.96" cy="266.82" r="1.2" fill="#ff4a4a"/>
<circle cx="128.32" cy="260.58" r="1.2" fill="#ff4a4a"/>
<circle cx="131.28" cy="260.88" r="1.2" fill="#ff4a4a"/>
<circle cx="133.12" cy="251.09" r="1.2" fill="#ff4a4a"/>
<circle cx="136.70" cy="246.62" r="1.2" fill="#ff4a4a"/>
<circle cx="139.04" cy="242.89" r="1.2" fill="#ff4a4a"/>
<circle cx="140.63" cy="248.84" r="1.2" fill="#ff4a4a"/>
<circle cx="143.68" cy="238.72" r="1.2" fill="#ff4a4a"/>
<circle cx="146.36" cy="234.70" r="1.2" fill="#ff4a4a"/>
<circle cx="148.21" cy="232.67" r="1.2" fill="#ff4a4a"/>
<circle cx="151.64" cy="229.43" r="1.2" fill="#ff4a4a"/>
<circle cx="154.69" cy="231.06" r="1.2" fill="#ff4a4a"/>
<circle cx="156.81" cy="236.15" r="1.2" fill="#ff4a4a"/>
<circle cx="159.36" cy="229.25" r="1.2" fill="#ff4a4a"/>
<circle cx="162.51" cy="236.97" r="1.2" fill="#ff4a4a"/>
<circle cx="164.33" cy="236.89" r="1.2" fill="#ff4a4a"/>
<circle cx="167.26" cy="239.80" r="1.2" fill="#ff4a4a"/>
<circle cx="169.74" cy="248.21" r="1.2" fill="#ff4a4a"/>
<circle cx="171.73" cy="246.43" r="1.2" fill="#ff4a4a"/>
<circle cx="174.46" cy="250.63" r="1.2" fill="#ff4a4a"/>
<circle cx="177.15" cy="254.90" r="1.2" fill="#ff4a4a"/>
<circle cx="179.25" cy="259.55" r="1.2" fill="#ff4a4a"/>
<circle cx="182.78" cy="265.53" r="1.2" fill="#ff4a4a"/>
<circle cx="184.33" cy="267.60" r="1.2" fill="#ff4a4a"/>
<circle cx="188.09" cy="275.92" r="1.2" fill="#ff4a4a"/>
<circle cx="189.39" cy="272.58" r="1.2" fill="#ff4a4a"/>
<circle cx="193.25" cy="281.46" r="1.2" fill="#ff4a4a"/>
<circle cx="195.71" cy="284.43" r="1.2" fill="#ff4a4a"/>
<circle cx="197.64" cy="283.39" r="1.2" fill="#ff4a4a"/>
<circle cx="200.12" cy="291.04" r="1.2" fill="#ff4a4a"/>
<circle cx="202.35" cy="283.49" r="1.2" fill="#ff4a4a"/>
<circle cx="204.96" cy="288.19" r="1.2" fill="#ff4a4a"/>
<circle cx="208.03" cy="289.37" r="1.2" fill="#ff4a4a"/>
<circle cx="210.76" cy="286.47" r="1.2" fill="#ff4a4a"/>
<circle cx="213.06" cy="285.15" r="1.2" fill="#ff4a4a"/>
<circle cx="215.55" cy="277.27" r="1.2" fill="#ff4a4a"/>
<circle cx="218.63" cy="276.79" r="1.2" fill="#ff4a4a"/>
<circle cx="220.92" cy="273.48" r="1.2" fill="#ff4a4a"/>
<circle cx="222.75" cy="271.04" r="1.2" fill="#ff4a4a"/>
<circle cx="226.68" cy="268.13" r="1.2" fill="#ff4a4a"/>
<circle cx="229.08" cy="258.35" r="1.2" fill="#ff4a4a"/>
<circle cx="231.01" cy="258.95" r="1.2" fill="#ff4a4a"/>
<circle cx="233.96" cy="255.48" r="1.2" fill="#ff4a4a"/>
<circle cx="235.62" cy="253.56" r="1.2" fill="#ff4a4a"/>
<circle cx="238.35" cy="248.39" r="1.2" fill="#ff4a4a"/>
<circle cx="241.20" cy="243.61" r="1.2" fill="#ff4a4a"/>
<circle cx="243.47" cy="240.64" r="1.2" fill="#ff4a4a"/>
<circle cx="245.96" cy="237.49" r="1.2" fill="#ff4a4a"/>
<circle cx="249.76" cy="235.05" r="1.2" fill="#ff4a4a"/>
<circle cx="251.92" cy="234.54" r="1.2" fill="#ff4a4a"/>
<circle cx="254.06" cy="234.20" r="1.2" fill="#ff4a4a"/>
<circle cx="256.66" cy="235.86" r="1.2" fill="#ff4a4a"/>
<circle cx="260.23" cy="236.64" r="1.2" fill="#ff4a4a"/>
<circle cx="261.96" cy="233.26" r="1.2" fill="#ff4a4a"/>
<circle cx="263.95" cy="235.77" r="1.2" fill="#ff4a4a"/>
<circle cx="266.90" cy="238.00" r="1.2" fill="#ff4a4a"/>
<circle cx="269.18" cy="245.54" r="1.2" fill="#ff4a4a"/>
<circle cx="271.53" cy="246.96" r="1.2" fill="#ff4a4a"/>
<circle cx="274.30" cy="247.35" r="1.2" fill="#ff4a4a"/>
<circle cx="277.50" cy="256.31" r="1.2" fill="#ff4a4a"/>
<circle cx="280.77" cy="259.44" r="1.2" fill="#ff4a4a"/>
<circle cx="77.58" cy="265.11" r="1.2" fill="#1a2fd6"/>
<circle cx="79.36" cy="260.89" r="1.2" fill="#1a2fd6"/>
<circle cx="81.61" cy="259.19" r="1.2" fill="#1a2fd6"/>
<circle cx="85.16" cy="249.93" r="1.2" fill="#1a2fd6"/>
<circle cx="87.01" cy="250.69" r="1.2" fill="#1a2fd6"/>
<circle cx="90.62" cy="249.11" r="1.2" fill="#1a2fd6"/>
<circle cx="92.98" cy="243.42" r="1.2" fill="#1a2fd6"/>
<circle cx="95.37" cy="235.26" r="1.2" fill="#1a2fd6"/>
<circle cx="97.12" cy="235.69" r="1.2" fill="#1a2fd6"/>
<circle cx="99.37" cy="236.20" r="1.2" fill="#1a2fd6"/>
<circle cx="101.94" cy="235.03" r="1.2" fill="#1a2fd6"/>
<circle cx="105.57" cy="236.88" r="1.2" fill="#1a2fd6"/>
<circle cx="108.57" cy="230.50" r="1.2" fill="#1a2fd6"/>
<circle cx="111.19" cy="239.12" r="1.2" fill="#1a2fd6"/>
<circle cx="113.70" cy="238.19" r="1.2" fill="#1a2fd6"/>
<circle cx="115.11" cy="241.96" r="1.2" fill="#1a2fd6"/>
<circle cx="117.63" cy="244.52" r="1.2" fill="#1a2fd6"/>
<circle cx="121.32" cy="251.86" r="1.2" fill="#1a2fd6"/>
<circle cx="123.80" cy="249.00" r="1.2" fill="#1a2fd6"/>
<circle cx="126.30" cy="257.04" r="1.2" fill="#1a2fd6"/>
<circle cx="127.73" cy="256.20" r="1.2" fill="#1a2fd6"/>
<circle cx="131.41" cy="260.92" r="1.2" fill="#1a2fd6"/>
<circle cx="133.93" cy="268.18" r="1.2" fill="#1a2fd6"/>
<circle cx="136.56" cy="274.20" r="1.2" fill="#1a2fd6"/>
<circle cx="138.40" cy="278.86" r="1.2" fill="#1a2fd6"/>
<circle cx="141.07" cy="274.60" r="1.2" fill="#1a2fd6"/>
<circle cx="143.65" cy="287.57" r="1.2" fill="#1a2fd6"/>
<circle cx="145.85" cy="285.02" r="1.2" fill="#1a2fd6"/>
<circle cx="148.35" cy="291.48" r="1.2" fill="#1a2fd6"/>
<circle cx="152.01" cy="294.75" r="1.2" fill="#1a2fd6"/>
<circle cx="153.52" cy="294.08" r="1.2" fill="#1a2fd6"/>
<circle cx="156.91" cy="285.14" r="1.2" fill="#1a2fd6"/>
<circle cx="158.99" cy="289.38" r="1.2" fill="#1a2fd6"/>
<circle cx="161.02" cy="289.27" r="1.2" fill="#1a2fd6"/>
<circle cx="165.12" cy="284.77" r="1.2" fill="#1a2fd6"/>
<circle cx="167.63" cy="281.46" r="1.2" fill="#1a2fd6"/>
<circle cx="169.40" cy="284.75" r="1.2" fill="#1a2fd6"/>
<circle cx="171.61" cy="275.36" r="1.2" fill="#1a2fd6"/>
<circle cx="174.25" cy="274.14" r="1.2" fill="#1a2fd6"/>
<circle cx="177.35" cy="271.24" r="1.2" fill="#1a2fd6"/>
<circle cx="179.40" cy="264.93" r="1.2" fill="#1a2fd6"/>
<circle cx="183.01" cy="260.42" r="1.2" fill="#1a2fd6"/>
<circle cx="184.69" cy="253.87" r="1.2" fill="#1a2fd6"/>
<circle cx="188.14" cy="252.12" r="1.2" fill="#1a2fd6"/>
<circle cx="189.94" cy="251.01" r="1.2" fill="#1a2fd6"/>
<circle cx="192.68" cy="243.31" r="1.2" fill="#1a2fd6"/>
<circle cx="195.24" cy="244.17" r="1.2" fill="#1a2fd6"/>
<circle cx="197.27" cy="239.82" r="1.2" fill="#1a2fd6"/>
<circle cx="199.55" cy="238.06" r="1.2" fill="#1a2fd6"/>
<circle cx="202.87" cy="234.33" r="1.2" fill="#1a2fd6"/>
<circle cx="205.84" cy="233.03" r="1.2" fill="#1a2fd6"/>
<circle cx="208.08" cy="234.38" r="1.2" fill="#1a2fd6"/>
<circle cx="210.71" cy="236.14" r="1.2" fill="#1a2fd6"/>
<circle cx="213.29" cy="236.24" r="1.2" fill="#1a2fd6"/>
<circle cx="215.36" cy="238.30" r="1.2" fill="#1a2fd6"/>
<circle cx="218.34" cy="246.10" r="1.2" fill="#1a2fd6"/>
<circle cx="221.00" cy="245.68" r="1.2" fill="#1a2fd6"/>
<circle cx="223.38" cy="243.43" r="1.2" fill="#1a2fd6"/>
<circle cx="226.22" cy="250.27" r="1.2" fill="#1a2fd6"/>
<circle cx="228.92" cy="257.52" r="1.2" fill="#1a2fd6"/>
<circle cx="231.10" cy="258.69" r="1.2" fill="#1a2fd6"/>
<circle cx="234.45" cy="266.59" r="1.2" fill="#1a2fd6"/>
<circle cx="236.64" cy="274.94" r="1.2" fill="#1a2fd6"/>
<circle cx="238.50" cy="269.88" r="1.2" fill="#1a2fd6"/>
<circle cx="241.55" cy="282.86" r="1.2" fill="#1a2fd6"/>
<circle cx="243.44" cy="279.57" r="1.2" fill="#1a2fd6"/>
<circle cx="245.99" cy="283.44" r="1.2" fill="#1a2fd6"/>
<circle cx="248.75" cy="287.46" r="1.2" fill="#1a2fd6"/>
<circle cx="251.05" cy="286.91" r="1.2" fill="#1a2fd6"/>
<circle cx="254.94" cy="287.15" r="1.2" fill="#1a2fd6"/>
<circle cx="256.32" cy="290.37" r="1.2" fill="#1a2fd6"/>
<circle cx="258.87" cy="287.67" r="1.2" fill="#1a2fd6"/>
<circle cx="262.63" cy="291.52" r="1.2" fill="#1a2fd6"/>
<circle cx="265.31" cy="287.75" r="1.2" fill="#1a2fd6"/>
<circle cx="266.99" cy="279.38" r="1.2" fill="#1a2fd6"/>
<circle cx="270.25" cy="283.67" r="1.2" fill="#1a2fd6"/>
<circle cx="271.75" cy="278.56" r="1.2" fill="#1a2fd6"/>
<circle cx="274.60" cy="278.35" r="1.2" fill="#1a2fd6"/>
<circle cx="276.94" cy="271.90" r="1.2" fill="#1a2fd6"/>
<circle cx="279.23" cy="273.22" r="1.2" fill="#1a2fd6"/>
<polyline points="77.40,336.52 78.08,338.02 78.75,339.53 79.43,341.04 80.10,342.54 80.78,344.05 81.46,345.55 82.13,347.04 82.81,348.52 83.48,349.98 84.16,351.43 84.84,352.86 85.51,354.27 86.19,355.66 86.86,357.02 87.54,358.35 88.22,359.65 88.89,360.92 89.57,362.15 90.24,363.34 90.92,364.49 91.60,365.61 92.27,366.67 92.95,367.70 93.62,368.67 94.30,369.60 94.98,370.47 95.65,371.29 96.33,372.06 97.00,372.78 97.68,373.43 98.36,374.03 99.03,374.57 99.71,375.05 100.38,375.48 101.06,375.84 101.74,376.13 102.41,376.37 103.09,376.54 103.76,376.65 104.44,376.70 105.12,376.68 105.79,376.60 106.47,376.46 107.14,376.25 107.82,375.98 108.50,375.65 109.17,375.26 109.85,374.81 110.52,374.30 111.20,373.72 111.88,373.09 112.55,372.41 113.23,371.66 113.90,370.87 114.58,370.02 115.26,369.11 115.93,368.16 116.61,367.16 117.28,366.12 117.96,365.03 118.64,363.89 119.31,362.72 119.99,361.50 120.66,360.25 121.34,358.97 122.02,357.65 122.69,356.31 123.37,354.93 124.04,353.53 124.72,352.11 125.40,350.67 126.07,349.21 126.75,347.74 127.42,346.25 128.10,344.76 128.78,343.26 129.45,341.75 130.13,340.24 130.80,338.73 131.48,337.23 132.16,335.73 132.83,334.24 133.51,332.76 134.18,331.30 134.86,329.85 135.54,328.43 136.21,327.02 136.89,325.64 137.56,324.28 138.24,322.96 138.92,321.66 139.59,320.40 140.27,319.17 140.94,317.99 141.62,316.84 142.30,315.73 142.97,314.67 143.65,313.66 144.32,312.69 145.00,311.77 145.68,310.90 146.35,310.09 147.03,309.33 147.70,308.62 148.38,307.97 149.06,307.38 149.73,306.85 150.41,306.38 151.08,305.97 151.76,305.62 152.44,305.33 153.11,305.10 153.79,304.94 154.46,304.84 155.14,304.80 155.82,304.83 156.49,304.92 157.17,305.07 157.84,305.28 158.52,305.56 159.20,305.90 159.87,306.30 160.55,306.76 161.22,307.29 161.90,307.87 162.58,308.50 163.25,309.20 163.93,309.95 164.60,310.76 165.28,311.61 165.96,312.52 166.63,313.48 167.31,314.49 167.98,315.54 168.66,316.64 169.34,317.78 170.01,318.96 170.69,320.18 171.36,321.43 172.04,322.72 172.72,324.04 173.39,325.39 174.07,326.77 174.74,328.17 175.42,329.60 176.10,331.04 176.77,332.50 177.45,333.98 178.12,335.47 178.80,336.96 179.48,338.47 180.15,339.97 180.83,341.48 181.50,342.99 182.18,344.49 182.86,345.99 183.53,347.48 184.21,348.95 184.88,350.41 185.56,351.86 186.24,353.28 186.91,354.69 187.59,356.06 188.26,357.42 188.94,358.74 189.62,360.03 190.29,361.28 190.97,362.50 191.64,363.69 192.32,364.83 193.00,365.93 193.67,366.98 194.35,367.99 195.02,368.95 195.70,369.86 196.38,370.72 197.05,371.53 197.73,372.28 198.40,372.98 199.08,373.62 199.76,374.20 200.43,374.72 201.11,375.19 201.78,375.59 202.46,375.93 203.14,376.21 203.81,376.43 204.49,376.58 205.16,376.67 205.84,376.70 206.52,376.66 207.19,376.57 207.87,376.40 208.54,376.18 209.22,375.89 209.90,375.54 210.57,375.13 211.25,374.66 211.92,374.13 212.60,373.54 213.28,372.90 213.95,372.19 214.63,371.43 215.30,370.62 215.98,369.76 216.66,368.84 217.33,367.87 218.01,366.86 218.68,365.80 219.36,364.69 220.04,363.55 220.71,362.36 221.39,361.14 222.06,359.88 222.74,358.58 223.42,357.26 224.09,355.90 224.77,354.52 225.44,353.12 226.12,351.69 226.80,350.24 227.47,348.78 228.15,347.30 228.82,345.81 229.50,344.32 230.18,342.81 230.85,341.30 231.53,339.79 232.20,338.29 232.88,336.79 233.56,335.29 234.23,333.80 234.91,332.33 235.58,330.87 236.26,329.43 236.94,328.01 237.61,326.61 238.29,325.23 238.96,323.89 239.64,322.57 240.32,321.28 240.99,320.03 241.67,318.82 242.34,317.64 243.02,316.51 243.70,315.41 244.37,314.37 245.05,313.37 245.72,312.41 246.40,311.51 247.08,310.66 247.75,309.86 248.43,309.11 249.10,308.43 249.78,307.79 250.46,307.22 251.13,306.71 251.81,306.25 252.48,305.86 253.16,305.52 253.84,305.25 254.51,305.05 255.19,304.90 255.86,304.82 256.54,304.80 257.22,304.85 257.89,304.95 258.57,305.13 259.24,305.36 259.92,305.66 260.60,306.01 261.27,306.43 261.95,306.91 262.62,307.45 263.30,308.05 263.98,308.70 264.65,309.42 265.33,310.18 266.00,311.00 266.68,311.88 267.36,312.80 268.03,313.77 268.71,314.80 269.38,315.86 270.06,316.97 270.74,318.12 271.41,319.32 272.09,320.55 272.76,321.81 273.44,323.11 274.12,324.44 274.79,325.80 275.47,327.18 276.14,328.59 276.82,330.02 277.50,331.47 278.17,332.94 278.85,334.42 279.52,335.91 280.20,337.41" fill="none" stroke="#000" stroke-width="2.1" stroke-linejoin="round" stroke-linecap="round"/>
<circle cx="78.09" cy="337.65" r="1.2" fill="#000"/>
<circle cx="80.46" cy="343.49" r="1.2" fill="#000"/>
<circle cx="83.66" cy="349.56" r="1.2" fill="#000"/>
<circle cx="86.97" cy="357.16" r="1.2" fill="#000"/>
<circle cx="89.38" cy="362.83" r="1.2" fill="#000"/>
<circle cx="91.27" cy="364.90" r="1.2" fill="#000"/>
<circle cx="93.64" cy="369.01" r="1.2" fill="#000"/>
<circle cx="96.52" cy="370.55" r="1.2" fill="#000"/>
<circle cx="99.71" cy="378.51" r="1.2" fill="#000"/>
<circle cx="102.18" cy="374.15" r="1.2" fill="#000"/>
<circle cx="104.74" cy="379.20" r="1.2" fill="#000"/>
<circle cx="108.35" cy="374.34" r="1.2" fill="#000"/>
<circle cx="110.10" cy="377.77" r="1.2" fill="#000"/>
<circle cx="113.37" cy="372.69" r="1.2" fill="#000"/>
<circle cx="115.53" cy="371.62" r="1.2" fill="#000"/>
<circle cx="119.43" cy="361.33" r="1.2" fill="#000"/>
<circle cx="121.01" cy="360.11" r="1.2" fill="#000"/>
<circle cx="124.99" cy="350.91" r="1.2" fill="#000"/>
<circle cx="127.06" cy="345.57" r="1.2" fill="#000"/>
<circle cx="130.55" cy="341.67" r="1.2" fill="#000"/>
<circle cx="132.22" cy="337.43" r="1.2" fill="#000"/>
<circle cx="134.91" cy="331.71" r="1.2" fill="#000"/>
<circle cx="137.43" cy="324.92" r="1.2" fill="#000"/>
<circle cx="140.31" cy="319.71" r="1.2" fill="#000"/>
<circle cx="143.21" cy="313.05" r="1.2" fill="#000"/>
<circle cx="145.91" cy="314.11" r="1.2" fill="#000"/>
<circle cx="148.97" cy="308.34" r="1.2" fill="#000"/>
<circle cx="150.93" cy="307.88" r="1.2" fill="#000"/>
<circle cx="154.03" cy="308.45" r="1.2" fill="#000"/>
<circle cx="157.24" cy="305.43" r="1.2" fill="#000"/>
<circle cx="159.40" cy="300.94" r="1.2" fill="#000"/>
<circle cx="161.99" cy="308.76" r="1.2" fill="#000"/>
<circle cx="165.86" cy="310.05" r="1.2" fill="#000"/>
<circle cx="168.62" cy="317.63" r="1.2" fill="#000"/>
<circle cx="170.64" cy="316.74" r="1.2" fill="#000"/>
<circle cx="174.31" cy="327.14" r="1.2" fill="#000"/>
<circle cx="176.02" cy="332.58" r="1.2" fill="#000"/>
<circle cx="179.22" cy="334.90" r="1.2" fill="#000"/>
<circle cx="181.58" cy="342.73" r="1.2" fill="#000"/>
<circle cx="183.87" cy="348.81" r="1.2" fill="#000"/>
<circle cx="186.50" cy="353.74" r="1.2" fill="#000"/>
<circle cx="189.38" cy="357.89" r="1.2" fill="#000"/>
<circle cx="191.98" cy="366.68" r="1.2" fill="#000"/>
<circle cx="195.65" cy="366.06" r="1.2" fill="#000"/>
<circle cx="197.76" cy="372.40" r="1.2" fill="#000"/>
<circle cx="200.77" cy="376.79" r="1.2" fill="#000"/>
<circle cx="203.02" cy="374.54" r="1.2" fill="#000"/>
<circle cx="207.04" cy="377.17" r="1.2" fill="#000"/>
<circle cx="209.78" cy="374.03" r="1.2" fill="#000"/>
<circle cx="212.50" cy="373.15" r="1.2" fill="#000"/>
<circle cx="214.18" cy="371.88" r="1.2" fill="#000"/>
<circle cx="217.03" cy="368.39" r="1.2" fill="#000"/>
<circle cx="219.91" cy="362.30" r="1.2" fill="#000"/>
<circle cx="222.68" cy="358.67" r="1.2" fill="#000"/>
<circle cx="224.61" cy="354.76" r="1.2" fill="#000"/>
<circle cx="227.97" cy="348.63" r="1.2" fill="#000"/>
<circle cx="230.13" cy="344.77" r="1.2" fill="#000"/>
<circle cx="233.17" cy="336.41" r="1.2" fill="#000"/>
<circle cx="236.46" cy="325.40" r="1.2" fill="#000"/>
<circle cx="239.31" cy="322.55" r="1.2" fill="#000"/>
<circle cx="242.13" cy="319.60" r="1.2" fill="#000"/>
<circle cx="244.24" cy="313.07" r="1.2" fill="#000"/>
<circle cx="248.02" cy="311.64" r="1.2" fill="#000"/>
<circle cx="250.20" cy="310.28" r="1.2" fill="#000"/>
<circle cx="251.97" cy="308.52" r="1.2" fill="#000"/>
<circle cx="255.64" cy="300.85" r="1.2" fill="#000"/>
<circle cx="258.54" cy="305.57" r="1.2" fill="#000"/>
<circle cx="260.93" cy="305.10" r="1.2" fill="#000"/>
<circle cx="263.63" cy="310.38" r="1.2" fill="#000"/>
<circle cx="266.87" cy="308.71" r="1.2" fill="#000"/>
<circle cx="269.22" cy="318.20" r="1.2" fill="#000"/>
<circle cx="272.12" cy="318.53" r="1.2" fill="#000"/>
<circle cx="274.11" cy="325.58" r="1.2" fill="#000"/>
<circle cx="277.05" cy="330.74" r="1.2" fill="#000"/>
<circle cx="279.37" cy="337.01" r="1.2" fill="#000"/>
<rect x="355" y="219.6" width="253.79999999999995" height="163.20000000000002" fill="none" stroke="#333" stroke-width="1.6"/>
<line x1="355.00" y1="301.50" x2="608.80" y2="301.50" stroke="#333" stroke-width="1.5" />
<line x1="380.20" y1="219.60" x2="380.20" y2="222.60" stroke="#333" stroke-width="1.2" />
<line x1="380.20" y1="301.50" x2="380.20" y2="304.50" stroke="#333" stroke-width="1.2" />
<line x1="380.20" y1="382.80" x2="380.20" y2="379.80" stroke="#333" stroke-width="1.2" />
<text x="380.20" y="394.30" font-family='"Liberation Serif", "Times New Roman", serif' font-size="9.5" font-weight="normal" text-anchor="middle" fill="#000" stroke="#000" stroke-width="0.15">-100</text>
<line x1="431.05" y1="219.60" x2="431.05" y2="222.60" stroke="#333" stroke-width="1.2" />
<line x1="431.05" y1="301.50" x2="431.05" y2="304.50" stroke="#333" stroke-width="1.2" />
<line x1="431.05" y1="382.80" x2="431.05" y2="379.80" stroke="#333" stroke-width="1.2" />
<text x="431.05" y="394.30" font-family='"Liberation Serif", "Times New Roman", serif' font-size="9.5" font-weight="normal" text-anchor="middle" fill="#000" stroke="#000" stroke-width="0.15">-50</text>
<line x1="481.90" y1="219.60" x2="481.90" y2="222.60" stroke="#333" stroke-width="1.2" />
<line x1="481.90" y1="301.50" x2="481.90" y2="304.50" stroke="#333" stroke-width="1.2" />
<line x1="481.90" y1="382.80" x2="481.90" y2="379.80" stroke="#333" stroke-width="1.2" />
<text x="481.90" y="394.30" font-family='"Liberation Serif", "Times New Roman", serif' font-size="9.5" font-weight="normal" text-anchor="middle" fill="#000" stroke="#000" stroke-width="0.15">0</text>
<line x1="532.75" y1="219.60" x2="532.75" y2="222.60" stroke="#333" stroke-width="1.2" />
<line x1="532.75" y1="301.50" x2="532.75" y2="304.50" stroke="#333" stroke-width="1.2" />
<line x1="532.75" y1="382.80" x2="532.75" y2="379.80" stroke="#333" stroke-width="1.2" />
<text x="532.75" y="394.30" font-family='"Liberation Serif", "Times New Roman", serif' font-size="9.5" font-weight="normal" text-anchor="middle" fill="#000" stroke="#000" stroke-width="0.15">50</text>
<line x1="583.60" y1="219.60" x2="583.60" y2="222.60" stroke="#333" stroke-width="1.2" />
<line x1="583.60" y1="301.50" x2="583.60" y2="304.50" stroke="#333" stroke-width="1.2" />
<line x1="583.60" y1="382.80" x2="583.60" y2="379.80" stroke="#333" stroke-width="1.2" />
<text x="583.60" y="394.30" font-family='"Liberation Serif", "Times New Roman", serif' font-size="9.5" font-weight="normal" text-anchor="middle" fill="#000" stroke="#000" stroke-width="0.15">100</text>
<line x1="355.00" y1="225.60" x2="358.00" y2="225.60" stroke="#333" stroke-width="1.2" />
<line x1="608.80" y1="225.60" x2="605.80" y2="225.60" stroke="#333" stroke-width="1.2" />
<text x="351.50" y="229.00" font-family='"Liberation Serif", "Times New Roman", serif' font-size="9.9" font-weight="normal" text-anchor="end" fill="#000" stroke="#000" stroke-width="0.15">1.028</text>
<line x1="355.00" y1="248.90" x2="358.00" y2="248.90" stroke="#333" stroke-width="1.2" />
<line x1="608.80" y1="248.90" x2="605.80" y2="248.90" stroke="#333" stroke-width="1.2" />
<text x="351.50" y="252.30" font-family='"Liberation Serif", "Times New Roman", serif' font-size="9.9" font-weight="normal" text-anchor="end" fill="#000" stroke="#000" stroke-width="0.15">1.024</text>
<line x1="355.00" y1="272.50" x2="358.00" y2="272.50" stroke="#333" stroke-width="1.2" />
<line x1="608.80" y1="272.50" x2="605.80" y2="272.50" stroke="#333" stroke-width="1.2" />
<text x="351.50" y="275.90" font-family='"Liberation Serif", "Times New Roman", serif' font-size="9.9" font-weight="normal" text-anchor="end" fill="#000" stroke="#000" stroke-width="0.15">1.020</text>
<line x1="355.00" y1="295.80" x2="358.00" y2="295.80" stroke="#333" stroke-width="1.2" />
<line x1="608.80" y1="295.80" x2="605.80" y2="295.80" stroke="#333" stroke-width="1.2" />
<text x="351.50" y="299.20" font-family='"Liberation Serif", "Times New Roman", serif' font-size="9.9" font-weight="normal" text-anchor="end" fill="#000" stroke="#000" stroke-width="0.15">1.016</text>
<line x1="355.00" y1="310.00" x2="358.00" y2="310.00" stroke="#333" stroke-width="1.2" />
<line x1="608.80" y1="310.00" x2="605.80" y2="310.00" stroke="#333" stroke-width="1.2" />
<text x="351.50" y="313.40" font-family='"Liberation Serif", "Times New Roman", serif' font-size="9.9" font-weight="normal" text-anchor="end" fill="#000" stroke="#000" stroke-width="0.15">0.01</text>
<line x1="355.00" y1="342.50" x2="358.00" y2="342.50" stroke="#333" stroke-width="1.2" />
<line x1="608.80" y1="342.50" x2="605.80" y2="342.50" stroke="#333" stroke-width="1.2" />
<text x="351.50" y="345.90" font-family='"Liberation Serif", "Times New Roman", serif' font-size="9.9" font-weight="normal" text-anchor="end" fill="#000" stroke="#000" stroke-width="0.15">0.00</text>
<line x1="355.00" y1="374.90" x2="358.00" y2="374.90" stroke="#333" stroke-width="1.2" />
<line x1="608.80" y1="374.90" x2="605.80" y2="374.90" stroke="#333" stroke-width="1.2" />
<text x="351.50" y="378.30" font-family='"Liberation Serif", "Times New Roman", serif' font-size="9.9" font-weight="normal" text-anchor="end" fill="#000" stroke="#000" stroke-width="0.15">-0.01</text>
<text x="437.90" y="410.90" font-family='"Liberation Serif", "Times New Roman", serif' font-size="9.4" font-weight="bold" text-anchor="start" fill="#000" stroke="#000" stroke-width="0.3" textLength="88.8" lengthAdjust="spacingAndGlyphs">Raman detuning (Hz)</text>
<text x="-286.20" y="326.60" font-family='"Liberation Serif", "Times New Roman", serif' font-size="9.6" font-weight="bold" text-anchor="start" fill="#000" stroke="#000" stroke-width="0.3" transform="rotate(-90)" textLength="56.7" lengthAdjust="spacingAndGlyphs">TS (arb. units)</text>
<text transform="rotate(-90)" y="326.7" font-family='"Liberation Serif", "Times New Roman", serif' font-size="9" font-weight="bold" stroke="#000" stroke-width="0.25"><tspan x="-368.6" font-size="8.4">P</tspan><tspan x="-363.8" font-size="5.4" dy="1.3">long</tspan><tspan x="-354.8" dy="-1.3" textLength="40" lengthAdjust="spacingAndGlyphs">(arb. units)</tspan></text>
<line x1="318.80" y1="363.20" x2="318.80" y2="369.00" stroke="#000" stroke-width="0.9" />
<circle cx="358.1" cy="230" r="1.3" fill="#1a2fd6"/>
<circle cx="358.1" cy="243" r="1.3" fill="#ff3b3b"/>
<text x="365.40" y="232.40" font-family='"Liberation Serif", "Times New Roman", serif' font-size="9.5" font-weight="bold" text-anchor="start" fill="#000" stroke="#000" stroke-width="0.3">+ &#960;/2</text>
<text x="365.40" y="245.40" font-family='"Liberation Serif", "Times New Roman", serif' font-size="9.5" font-weight="bold" text-anchor="start" fill="#000" stroke="#000" stroke-width="0.3">&#8722; &#960;/2</text>
<text x="365.00" y="321.70" font-family='"Liberation Serif", "Times New Roman", serif' font-size="9.8" font-weight="bold" text-anchor="start" fill="#000" stroke="#000" stroke-width="0.3" textLength="37.2" lengthAdjust="spacingAndGlyphs"><tspan font-style="italic">T</tspan>=20 ms</text>
<polyline points="382.60,263.60 382.94,262.43 383.28,261.24 383.62,260.06 383.95,258.87 384.29,257.69 384.63,256.51 384.97,255.33 385.31,254.17 385.65,253.01 385.99,251.86 386.33,250.73 386.66,249.62 387.00,248.53 387.34,247.45 387.68,246.40 388.02,245.37 388.36,244.36 388.70,243.39 389.03,242.44 389.37,241.52 389.71,240.64 390.05,239.79 390.39,238.98 390.73,238.20 391.07,237.46 391.41,236.76 391.74,236.10 392.08,235.49 392.42,234.91 392.76,234.39 393.10,233.90 393.44,233.47 393.78,233.08 394.11,232.73 394.45,232.44 394.79,232.19 395.13,232.00 395.47,231.85 395.81,231.75 396.15,231.71 396.49,231.71 396.82,231.76 397.16,231.86 397.50,232.01 397.84,232.22 398.18,232.47 398.52,232.76 398.86,233.11 399.19,233.51 399.53,233.95 399.87,234.43 400.21,234.97 400.55,235.54 400.89,236.16 401.23,236.82 401.57,237.53 401.90,238.27 402.24,239.05 402.58,239.87 402.92,240.72 403.26,241.61 403.60,242.53 403.94,243.48 404.27,244.46 404.61,245.46 404.95,246.49 405.29,247.55 405.63,248.63 405.97,249.73 406.31,250.84 406.65,251.97 406.98,253.12 407.32,254.28 407.66,255.44 408.00,256.62 408.34,257.80 408.68,258.98 409.02,260.17 409.35,261.35 409.69,262.54 410.03,263.71 410.37,264.89 410.71,266.05 411.05,267.20 411.39,268.34 411.73,269.46 412.06,270.57 412.40,271.65 412.74,272.72 413.08,273.76 413.42,274.78 413.76,275.77 414.10,276.74 414.43,277.67 414.77,278.57 415.11,279.44 415.45,280.28 415.79,281.07 416.13,281.83 416.47,282.56 416.81,283.24 417.14,283.88 417.48,284.47 417.82,285.02 418.16,285.53 418.50,286.00 418.84,286.41 419.18,286.78 419.51,287.10 419.85,287.38 420.19,287.60 420.53,287.77 420.87,287.90 421.21,287.97 421.55,288.00 421.89,287.98 422.22,287.90 422.56,287.78 422.90,287.60 423.24,287.38 423.58,287.11 423.92,286.79 424.26,286.42 424.59,286.00 424.93,285.54 425.27,285.04 425.61,284.48 425.95,283.89 426.29,283.25 426.63,282.57 426.97,281.85 427.30,281.09 427.64,280.29 427.98,279.46 428.32,278.59 428.66,277.69 429.00,276.76 429.34,275.79 429.67,274.80 430.01,273.78 430.35,272.74 430.69,271.67 431.03,270.59 431.37,269.48 431.71,268.36 432.05,267.22 432.38,266.07 432.72,264.91 433.06,263.74 433.40,262.56 433.74,261.38 434.08,260.19 434.42,259.01 434.75,257.82 435.09,256.64 435.43,255.47 435.77,254.30 436.11,253.14 436.45,251.99 436.79,250.86 437.13,249.75 437.46,248.65 437.80,247.57 438.14,246.52 438.48,245.48 438.82,244.48 439.16,243.50 439.50,242.55 439.83,241.63 440.17,240.74 440.51,239.88 440.85,239.07 441.19,238.28 441.53,237.54 441.87,236.84 442.21,236.18 442.54,235.56 442.88,234.98 443.22,234.44 443.56,233.96 443.90,233.51 444.24,233.12 444.58,232.77 444.91,232.47 445.25,232.22 445.59,232.02 445.93,231.86 446.27,231.76 446.61,231.71 446.95,231.70 447.29,231.75 447.62,231.85 447.96,231.99 448.30,232.19 448.64,232.43 448.98,232.73 449.32,233.07 449.66,233.46 449.99,233.89 450.33,234.38 450.67,234.90 451.01,235.48 451.35,236.09 451.69,236.75 452.03,237.45 452.37,238.18 452.70,238.96 453.04,239.77 453.38,240.62 453.72,241.50 454.06,242.42 454.40,243.37 454.74,244.34 455.07,245.35 455.41,246.38 455.75,247.43 456.09,248.50 456.43,249.60 456.77,250.71 457.11,251.84 457.45,252.99 457.78,254.14 458.12,255.31 458.46,256.48 458.80,257.66 459.14,258.85 459.48,260.03 459.82,261.22 460.15,262.40 460.49,263.58 460.83,264.75 461.17,265.92 461.51,267.07 461.85,268.21 462.19,269.33 462.53,270.44 462.86,271.53 463.20,272.60 463.54,273.65 463.88,274.67 464.22,275.66 464.56,276.63 464.90,277.57 465.23,278.47 465.57,279.34 465.91,280.18 466.25,280.98 466.59,281.75 466.93,282.47 467.27,283.16 467.61,283.80 467.94,284.41 468.28,284.96 468.62,285.48 468.96,285.95 469.30,286.37 469.64,286.74 469.98,287.07 470.31,287.35 470.65,287.58 470.99,287.76 471.33,287.89 471.67,287.97 472.01,288.00 472.35,287.98 472.69,287.91 473.02,287.79 473.36,287.63 473.70,287.41 474.04,287.14 474.38,286.83 474.72,286.46 475.06,286.05 475.39,285.60 475.73,285.10 476.07,284.55 476.41,283.96 476.75,283.32 477.09,282.65 477.43,281.93 477.77,281.18 478.10,280.38 478.44,279.56 478.78,278.69 479.12,277.79 479.46,276.86 479.80,275.90 480.14,274.92 480.47,273.90 480.81,272.86 481.15,271.80 481.49,270.71 481.83,269.61 482.17,268.49 482.51,267.35 482.85,266.20 483.18,265.04 483.52,263.87 483.86,262.69 484.20,261.51 484.54,260.33 484.88,259.14 485.22,257.96 485.55,256.78 485.89,255.60 486.23,254.43 486.57,253.27 486.91,252.12 487.25,250.99 487.59,249.87 487.93,248.77 488.26,247.69 488.60,246.63 488.94,245.60 489.28,244.59 489.62,243.61 489.96,242.65 490.30,241.73 490.63,240.84 490.97,239.98 491.31,239.16 491.65,238.37 491.99,237.62 492.33,236.92 492.67,236.25 493.01,235.62 493.34,235.04 493.68,234.50 494.02,234.01 494.36,233.56 494.70,233.16 495.04,232.81 495.38,232.50 495.71,232.25 496.05,232.04 496.39,231.88 496.73,231.77 497.07,231.71 497.41,231.70 497.75,231.74 498.09,231.83 498.42,231.97 498.76,232.16 499.10,232.40 499.44,232.69 499.78,233.03 500.12,233.41 500.46,233.84 500.79,234.32 501.13,234.84 501.47,235.41 501.81,236.02 502.15,236.67 502.49,237.36 502.83,238.10 503.17,238.87 503.50,239.68 503.84,240.52 504.18,241.40 504.52,242.31 504.86,243.26 505.20,244.23 505.54,245.23 505.87,246.26 506.21,247.31 506.55,248.38 506.89,249.47 507.23,250.58 507.57,251.71 507.91,252.86 508.25,254.01 508.58,255.18 508.92,256.35 509.26,257.53 509.60,258.71 509.94,259.90 510.28,261.08 510.62,262.27 510.95,263.45 511.29,264.62 511.63,265.78 511.97,266.94 512.31,268.08 512.65,269.21 512.99,270.32 513.33,271.41 513.66,272.48 514.00,273.53 514.34,274.55 514.68,275.55 515.02,276.52 515.36,277.46 515.70,278.37 516.03,279.25 516.37,280.09 516.71,280.89 517.05,281.66 517.39,282.39 517.73,283.08 518.07,283.73 518.41,284.34 518.74,284.90 519.08,285.42 519.42,285.89 519.76,286.32 520.10,286.70 520.44,287.03 520.78,287.32 521.11,287.55 521.45,287.74 521.79,287.87 522.13,287.96 522.47,288.00 522.81,287.99 523.15,287.92 523.49,287.81 523.82,287.65 524.16,287.44 524.50,287.17 524.84,286.87 525.18,286.51 525.52,286.10 525.86,285.65 526.19,285.15 526.53,284.61 526.87,284.03 527.21,283.40 527.55,282.73 527.89,282.02 528.23,281.27 528.57,280.48 528.90,279.65 529.24,278.79 529.58,277.90 529.92,276.97 530.26,276.02 530.60,275.03 530.94,274.02 531.27,272.98 531.61,271.92 531.95,270.84 532.29,269.74 532.63,268.62 532.97,267.48 533.31,266.33 533.65,265.18 533.98,264.01 534.32,262.83 534.66,261.65 535.00,260.46 535.34,259.28 535.68,258.09 536.02,256.91 536.35,255.73 536.69,254.56 537.03,253.40 537.37,252.26 537.71,251.12 538.05,250.00 538.39,248.90 538.73,247.82 539.06,246.75 539.40,245.72 539.74,244.70 540.08,243.72 540.42,242.76 540.76,241.83 541.10,240.94 541.43,240.08 541.77,239.25 542.11,238.46 542.45,237.71 542.79,237.00 543.13,236.32 543.47,235.69 543.81,235.11 544.14,234.56 544.48,234.06 544.82,233.61 545.16,233.20 545.50,232.85 545.84,232.54 546.18,232.27 546.51,232.06 546.85,231.90 547.19,231.78 547.53,231.72 547.87,231.70 548.21,231.74 548.55,231.82 548.89,231.96 549.22,232.14 549.56,232.37 549.90,232.66 550.24,232.99 550.58,233.37 550.92,233.79 551.26,234.26 551.59,234.78 551.93,235.34 552.27,235.95 552.61,236.59 552.95,237.28 553.29,238.01 553.63,238.78 553.97,239.58 554.30,240.42 554.64,241.30 554.98,242.21 555.32,243.15 555.66,244.12 556.00,245.12 556.34,246.14 556.67,247.19 557.01,248.26 557.35,249.35 557.69,250.46 558.03,251.58 558.37,252.72 558.71,253.88 559.05,255.04 559.38,256.21 559.72,257.39 560.06,258.58 560.40,259.76 560.74,260.95 561.08,262.13 561.42,263.31 561.75,264.49 562.09,265.65 562.43,266.81 562.77,267.95 563.11,269.08 563.45,270.19 563.79,271.28 564.13,272.36 564.46,273.41 564.80,274.44 565.14,275.44 565.48,276.41 565.82,277.35 566.16,278.27 566.50,279.15 566.83,279.99 567.17,280.80 567.51,281.58 567.85,282.31 568.19,283.01 568.53,283.66 568.87,284.27 569.21,284.84 569.54,285.36 569.88,285.84 570.22,286.27 570.56,286.66 570.90,287.00 571.24,287.29 571.58,287.53 571.91,287.72 572.25,287.86 572.59,287.95 572.93,288.00 573.27,287.99 573.61,287.93 573.95,287.83 574.29,287.67 574.62,287.46 574.96,287.21 575.30,286.90 575.64,286.55 575.98,286.15 576.32,285.71 576.66,285.21 576.99,284.68 577.33,284.10 577.67,283.47 578.01,282.81 578.35,282.10 578.69,281.35 579.03,280.57 579.37,279.75 579.70,278.89 580.04,278.00 580.38,277.08 580.72,276.13 581.06,275.14 581.40,274.13 581.74,273.10 582.07,272.04 582.41,270.96 582.75,269.86 583.09,268.75 583.43,267.61 583.77,266.47 584.11,265.31 584.45,264.14 584.78,262.96 585.12,261.78 585.46,260.60 585.80,259.41" fill="none" stroke="#ff1a1a" stroke-width="2.0" stroke-linejoin="round" stroke-linecap="round"/>
<polyline points="382.60,257.80 382.94,259.01 383.28,260.22 383.62,261.42 383.95,262.62 384.29,263.82 384.63,265.01 384.97,266.19 385.31,267.36 385.65,268.51 385.99,269.65 386.33,270.77 386.66,271.87 387.00,272.95 387.34,274.00 387.68,275.03 388.02,276.03 388.36,277.01 388.70,277.95 389.03,278.86 389.37,279.74 389.71,280.58 390.05,281.38 390.39,282.14 390.73,282.87 391.07,283.55 391.41,284.20 391.74,284.79 392.08,285.35 392.42,285.86 392.76,286.32 393.10,286.74 393.44,287.10 393.78,287.42 394.11,287.69 394.45,287.92 394.79,288.09 395.13,288.21 395.47,288.28 395.81,288.30 396.15,288.27 396.49,288.19 396.82,288.06 397.16,287.88 397.50,287.65 397.84,287.37 398.18,287.04 398.52,286.66 398.86,286.23 399.19,285.76 399.53,285.24 399.87,284.68 400.21,284.07 400.55,283.42 400.89,282.73 401.23,282.00 401.57,281.23 401.90,280.41 402.24,279.57 402.58,278.68 402.92,277.77 403.26,276.82 403.60,275.84 403.94,274.83 404.27,273.80 404.61,272.74 404.95,271.66 405.29,270.55 405.63,269.43 405.97,268.29 406.31,267.13 406.65,265.96 406.98,264.78 407.32,263.59 407.66,262.39 408.00,261.19 408.34,259.98 408.68,258.77 409.02,257.57 409.35,256.36 409.69,255.17 410.03,253.98 410.37,252.80 410.71,251.63 411.05,250.47 411.39,249.33 411.73,248.21 412.06,247.11 412.40,246.03 412.74,244.97 413.08,243.94 413.42,242.94 413.76,241.96 414.10,241.02 414.43,240.11 414.77,239.23 415.11,238.39 415.45,237.58 415.79,236.81 416.13,236.08 416.47,235.40 416.81,234.75 417.14,234.15 417.48,233.59 417.82,233.08 418.16,232.61 418.50,232.19 418.84,231.82 419.18,231.50 419.51,231.22 419.85,231.00 420.19,230.82 420.53,230.70 420.87,230.62 421.21,230.60 421.55,230.63 421.89,230.70 422.22,230.83 422.56,231.01 422.90,231.24 423.24,231.51 423.58,231.84 423.92,232.21 424.26,232.63 424.59,233.10 424.93,233.62 425.27,234.18 425.61,234.78 425.95,235.43 426.29,236.12 426.63,236.85 426.97,237.62 427.30,238.42 427.64,239.27 427.98,240.15 428.32,241.06 428.66,242.01 429.00,242.99 429.34,243.99 429.67,245.02 430.01,246.08 430.35,247.16 430.69,248.27 431.03,249.39 431.37,250.53 431.71,251.68 432.05,252.85 432.38,254.03 432.72,255.22 433.06,256.42 433.40,257.62 433.74,258.83 434.08,260.04 434.42,261.24 434.75,262.45 435.09,263.64 435.43,264.83 435.77,266.02 436.11,267.19 436.45,268.34 436.79,269.48 437.13,270.60 437.46,271.71 437.80,272.79 438.14,273.85 438.48,274.88 438.82,275.89 439.16,276.87 439.50,277.81 439.83,278.73 440.17,279.61 440.51,280.45 440.85,281.26 441.19,282.03 441.53,282.76 441.87,283.46 442.21,284.10 442.54,284.71 442.88,285.27 443.22,285.79 443.56,286.26 443.90,286.68 444.24,287.05 444.58,287.38 444.91,287.66 445.25,287.89 445.59,288.07 445.93,288.19 446.27,288.27 446.61,288.30 446.95,288.28 447.29,288.20 447.62,288.08 447.96,287.91 448.30,287.68 448.64,287.41 448.98,287.09 449.32,286.72 449.66,286.30 449.99,285.84 450.33,285.32 450.67,284.77 451.01,284.17 451.35,283.52 451.69,282.84 452.03,282.11 452.37,281.34 452.70,280.54 453.04,279.69 453.38,278.82 453.72,277.91 454.06,276.96 454.40,275.99 454.74,274.98 455.07,273.95 455.41,272.90 455.75,271.82 456.09,270.72 456.43,269.60 456.77,268.46 457.11,267.30 457.45,266.13 457.78,264.95 458.12,263.76 458.46,262.57 458.80,261.36 459.14,260.16 459.48,258.95 459.82,257.75 460.15,256.54 460.49,255.34 460.83,254.15 461.17,252.97 461.51,251.80 461.85,250.64 462.19,249.50 462.53,248.38 462.86,247.27 463.20,246.19 463.54,245.13 463.88,244.09 464.22,243.09 464.56,242.11 464.90,241.16 465.23,240.24 465.57,239.36 465.91,238.51 466.25,237.70 466.59,236.92 466.93,236.19 467.27,235.49 467.61,234.84 467.94,234.23 468.28,233.67 468.62,233.15 468.96,232.68 469.30,232.25 469.64,231.87 469.98,231.54 470.31,231.26 470.65,231.03 470.99,230.85 471.33,230.71 471.67,230.63 472.01,230.60 472.35,230.62 472.69,230.69 473.02,230.81 473.36,230.98 473.70,231.20 474.04,231.47 474.38,231.79 474.72,232.15 475.06,232.57 475.39,233.03 475.73,233.54 476.07,234.09 476.41,234.69 476.75,235.33 477.09,236.01 477.43,236.74 477.77,237.50 478.10,238.30 478.44,239.14 478.78,240.02 479.12,240.93 479.46,241.87 479.80,242.84 480.14,243.84 480.47,244.87 480.81,245.92 481.15,247.00 481.49,248.10 481.83,249.22 482.17,250.36 482.51,251.51 482.85,252.68 483.18,253.86 483.52,255.05 483.86,256.24 484.20,257.45 484.54,258.65 484.88,259.86 485.22,261.07 485.55,262.27 485.89,263.47 486.23,264.66 486.57,265.84 486.91,267.01 487.25,268.17 487.59,269.31 487.93,270.44 488.26,271.55 488.60,272.63 488.94,273.69 489.28,274.73 489.62,275.74 489.96,276.72 490.30,277.67 490.63,278.59 490.97,279.48 491.31,280.33 491.65,281.15 491.99,281.92 492.33,282.66 492.67,283.36 493.01,284.01 493.34,284.62 493.68,285.19 494.02,285.71 494.36,286.19 494.70,286.62 495.04,287.00 495.38,287.34 495.71,287.62 496.05,287.86 496.39,288.04 496.73,288.18 497.07,288.26 497.41,288.30 497.75,288.28 498.09,288.22 498.42,288.10 498.76,287.94 499.10,287.72 499.44,287.45 499.78,287.14 500.12,286.78 500.46,286.36 500.79,285.91 501.13,285.40 501.47,284.85 501.81,284.26 502.15,283.62 502.49,282.94 502.83,282.22 503.17,281.46 503.50,280.66 503.84,279.82 504.18,278.95 504.52,278.04 504.86,277.10 505.20,276.13 505.54,275.13 505.87,274.11 506.21,273.05 506.55,271.98 506.89,270.88 507.23,269.76 507.57,268.63 507.91,267.47 508.25,266.31 508.58,265.13 508.92,263.94 509.26,262.74 509.60,261.54 509.94,260.34 510.28,259.13 510.62,257.92 510.95,256.72 511.29,255.52 511.63,254.33 511.97,253.14 512.31,251.97 512.65,250.81 512.99,249.67 513.33,248.54 513.66,247.43 514.00,246.35 514.34,245.28 514.68,244.25 515.02,243.23 515.36,242.25 515.70,241.29 516.03,240.37 516.37,239.48 516.71,238.63 517.05,237.81 517.39,237.03 517.73,236.29 518.07,235.59 518.41,234.94 518.74,234.32 519.08,233.75 519.42,233.22 519.76,232.74 520.10,232.31 520.44,231.93 520.78,231.59 521.11,231.30 521.45,231.06 521.79,230.87 522.13,230.73 522.47,230.64 522.81,230.60 523.15,230.61 523.49,230.68 523.82,230.79 524.16,230.95 524.50,231.16 524.84,231.42 525.18,231.74 525.52,232.10 525.86,232.50 526.19,232.96 526.53,233.46 526.87,234.01 527.21,234.60 527.55,235.23 527.89,235.91 528.23,236.63 528.57,237.38 528.90,238.18 529.24,239.02 529.58,239.89 529.92,240.79 530.26,241.73 530.60,242.69 530.94,243.69 531.27,244.72 531.61,245.77 531.95,246.84 532.29,247.94 532.63,249.05 532.97,250.19 533.31,251.34 533.65,252.51 533.98,253.68 534.32,254.87 534.66,256.07 535.00,257.27 535.34,258.47 535.68,259.68 536.02,260.89 536.35,262.09 536.69,263.29 537.03,264.48 537.37,265.67 537.71,266.84 538.05,268.00 538.39,269.15 538.73,270.28 539.06,271.38 539.40,272.47 539.74,273.54 540.08,274.58 540.42,275.59 540.76,276.58 541.10,277.54 541.43,278.46 541.77,279.35 542.11,280.21 542.45,281.03 542.79,281.81 543.13,282.55 543.47,283.26 543.81,283.92 544.14,284.53 544.48,285.11 544.82,285.64 545.16,286.12 545.50,286.56 545.84,286.95 546.18,287.29 546.51,287.58 546.85,287.82 547.19,288.02 547.53,288.16 547.87,288.25 548.21,288.30 548.55,288.29 548.89,288.23 549.22,288.12 549.56,287.96 549.90,287.75 550.24,287.50 550.58,287.19 550.92,286.83 551.26,286.43 551.59,285.98 551.93,285.48 552.27,284.94 552.61,284.35 552.95,283.72 553.29,283.04 553.63,282.33 553.97,281.57 554.30,280.78 554.64,279.95 554.98,279.08 555.32,278.18 555.66,277.24 556.00,276.28 556.34,275.28 556.67,274.26 557.01,273.21 557.35,272.14 557.69,271.04 558.03,269.93 558.37,268.79 558.71,267.64 559.05,266.48 559.38,265.30 559.72,264.12 560.06,262.92 560.40,261.72 560.74,260.52 561.08,259.31 561.42,258.10 561.75,256.90 562.09,255.70 562.43,254.50 562.77,253.32 563.11,252.14 563.45,250.98 563.79,249.84 564.13,248.71 564.46,247.60 564.80,246.51 565.14,245.44 565.48,244.40 565.82,243.38 566.16,242.39 566.50,241.43 566.83,240.51 567.17,239.61 567.51,238.75 567.85,237.93 568.19,237.15 568.53,236.40 568.87,235.69 569.21,235.03 569.54,234.41 569.88,233.83 570.22,233.30 570.56,232.81 570.90,232.37 571.24,231.98 571.58,231.63 571.91,231.34 572.25,231.09 572.59,230.89 572.93,230.75 573.27,230.65 573.61,230.60 573.95,230.61 574.29,230.66 574.62,230.77 574.96,230.92 575.30,231.13 575.64,231.38 575.98,231.69 576.32,232.04 576.66,232.44 576.99,232.89 577.33,233.38 577.67,233.92 578.01,234.51 578.35,235.13 578.69,235.81 579.03,236.52 579.37,237.27 579.70,238.06 580.04,238.89 580.38,239.76 580.72,240.65 581.06,241.59 581.40,242.55 581.74,243.54 582.07,244.56 582.41,245.61 582.75,246.68 583.09,247.77 583.43,248.89 583.77,250.02 584.11,251.17 584.45,252.33 584.78,253.51 585.12,254.70 585.46,255.89 585.80,257.09" fill="none" stroke="#1428c8" stroke-width="2.0" stroke-linejoin="round" stroke-linecap="round"/>
<circle cx="383.20" cy="259.08" r="1.2" fill="#ff4a4a"/>
<circle cx="385.47" cy="252.53" r="1.2" fill="#ff4a4a"/>
<circle cx="386.74" cy="247.05" r="1.2" fill="#ff4a4a"/>
<circle cx="390.29" cy="239.19" r="1.2" fill="#ff4a4a"/>
<circle cx="392.13" cy="232.79" r="1.2" fill="#ff4a4a"/>
<circle cx="394.60" cy="235.61" r="1.2" fill="#ff4a4a"/>
<circle cx="396.22" cy="233.15" r="1.2" fill="#ff4a4a"/>
<circle cx="398.21" cy="232.14" r="1.2" fill="#ff4a4a"/>
<circle cx="400.69" cy="239.33" r="1.2" fill="#ff4a4a"/>
<circle cx="403.81" cy="245.66" r="1.2" fill="#ff4a4a"/>
<circle cx="405.51" cy="247.85" r="1.2" fill="#ff4a4a"/>
<circle cx="407.93" cy="254.86" r="1.2" fill="#ff4a4a"/>
<circle cx="410.42" cy="261.63" r="1.2" fill="#ff4a4a"/>
<circle cx="412.73" cy="273.80" r="1.2" fill="#ff4a4a"/>
<circle cx="414.38" cy="278.11" r="1.2" fill="#ff4a4a"/>
<circle cx="417.43" cy="283.43" r="1.2" fill="#ff4a4a"/>
<circle cx="418.53" cy="288.73" r="1.2" fill="#ff4a4a"/>
<circle cx="420.88" cy="287.52" r="1.2" fill="#ff4a4a"/>
<circle cx="424.16" cy="289.79" r="1.2" fill="#ff4a4a"/>
<circle cx="426.40" cy="282.35" r="1.2" fill="#ff4a4a"/>
<circle cx="428.34" cy="281.11" r="1.2" fill="#ff4a4a"/>
<circle cx="430.61" cy="275.36" r="1.2" fill="#ff4a4a"/>
<circle cx="432.45" cy="269.00" r="1.2" fill="#ff4a4a"/>
<circle cx="435.97" cy="254.01" r="1.2" fill="#ff4a4a"/>
<circle cx="437.41" cy="248.67" r="1.2" fill="#ff4a4a"/>
<circle cx="440.25" cy="242.89" r="1.2" fill="#ff4a4a"/>
<circle cx="441.64" cy="236.82" r="1.2" fill="#ff4a4a"/>
<circle cx="443.82" cy="235.04" r="1.2" fill="#ff4a4a"/>
<circle cx="446.68" cy="231.20" r="1.2" fill="#ff4a4a"/>
<circle cx="448.25" cy="226.78" r="1.2" fill="#ff4a4a"/>
<circle cx="450.50" cy="233.81" r="1.2" fill="#ff4a4a"/>
<circle cx="453.87" cy="237.33" r="1.2" fill="#ff4a4a"/>
<circle cx="455.95" cy="247.82" r="1.2" fill="#ff4a4a"/>
<circle cx="457.47" cy="255.10" r="1.2" fill="#ff4a4a"/>
<circle cx="459.41" cy="258.27" r="1.2" fill="#ff4a4a"/>
<circle cx="461.64" cy="265.12" r="1.2" fill="#ff4a4a"/>
<circle cx="464.39" cy="276.28" r="1.2" fill="#ff4a4a"/>
<circle cx="466.40" cy="280.26" r="1.2" fill="#ff4a4a"/>
<circle cx="469.79" cy="288.49" r="1.2" fill="#ff4a4a"/>
<circle cx="470.72" cy="287.63" r="1.2" fill="#ff4a4a"/>
<circle cx="473.18" cy="283.52" r="1.2" fill="#ff4a4a"/>
<circle cx="476.74" cy="282.25" r="1.2" fill="#ff4a4a"/>
<circle cx="477.99" cy="276.05" r="1.2" fill="#ff4a4a"/>
<circle cx="480.39" cy="267.85" r="1.2" fill="#ff4a4a"/>
<circle cx="483.01" cy="270.67" r="1.2" fill="#ff4a4a"/>
<circle cx="484.91" cy="257.43" r="1.2" fill="#ff4a4a"/>
<circle cx="486.68" cy="253.67" r="1.2" fill="#ff4a4a"/>
<circle cx="489.04" cy="246.23" r="1.2" fill="#ff4a4a"/>
<circle cx="492.64" cy="234.74" r="1.2" fill="#ff4a4a"/>
<circle cx="493.81" cy="234.05" r="1.2" fill="#ff4a4a"/>
<circle cx="495.99" cy="234.69" r="1.2" fill="#ff4a4a"/>
<circle cx="498.55" cy="236.44" r="1.2" fill="#ff4a4a"/>
<circle cx="501.52" cy="234.25" r="1.2" fill="#ff4a4a"/>
<circle cx="503.50" cy="244.15" r="1.2" fill="#ff4a4a"/>
<circle cx="505.64" cy="242.84" r="1.2" fill="#ff4a4a"/>
<circle cx="508.18" cy="257.20" r="1.2" fill="#ff4a4a"/>
<circle cx="510.02" cy="261.28" r="1.2" fill="#ff4a4a"/>
<circle cx="512.78" cy="268.51" r="1.2" fill="#ff4a4a"/>
<circle cx="513.92" cy="271.85" r="1.2" fill="#ff4a4a"/>
<circle cx="517.59" cy="284.55" r="1.2" fill="#ff4a4a"/>
<circle cx="518.93" cy="286.98" r="1.2" fill="#ff4a4a"/>
<circle cx="521.13" cy="287.14" r="1.2" fill="#ff4a4a"/>
<circle cx="523.34" cy="281.86" r="1.2" fill="#ff4a4a"/>
<circle cx="526.24" cy="284.21" r="1.2" fill="#ff4a4a"/>
<circle cx="528.09" cy="284.24" r="1.2" fill="#ff4a4a"/>
<circle cx="530.00" cy="277.55" r="1.2" fill="#ff4a4a"/>
<circle cx="533.45" cy="267.13" r="1.2" fill="#ff4a4a"/>
<circle cx="535.06" cy="261.14" r="1.2" fill="#ff4a4a"/>
<circle cx="538.13" cy="254.43" r="1.2" fill="#ff4a4a"/>
<circle cx="539.53" cy="246.26" r="1.2" fill="#ff4a4a"/>
<circle cx="541.22" cy="241.72" r="1.2" fill="#ff4a4a"/>
<circle cx="543.89" cy="236.33" r="1.2" fill="#ff4a4a"/>
<circle cx="546.03" cy="233.26" r="1.2" fill="#ff4a4a"/>
<circle cx="548.80" cy="234.70" r="1.2" fill="#ff4a4a"/>
<circle cx="550.82" cy="231.28" r="1.2" fill="#ff4a4a"/>
<circle cx="553.09" cy="235.46" r="1.2" fill="#ff4a4a"/>
<circle cx="555.24" cy="242.59" r="1.2" fill="#ff4a4a"/>
<circle cx="557.06" cy="247.42" r="1.2" fill="#ff4a4a"/>
<circle cx="559.44" cy="262.07" r="1.2" fill="#ff4a4a"/>
<circle cx="562.31" cy="263.38" r="1.2" fill="#ff4a4a"/>
<circle cx="564.12" cy="269.15" r="1.2" fill="#ff4a4a"/>
<circle cx="566.48" cy="279.12" r="1.2" fill="#ff4a4a"/>
<circle cx="569.03" cy="286.77" r="1.2" fill="#ff4a4a"/>
<circle cx="572.11" cy="290.40" r="1.2" fill="#ff4a4a"/>
<circle cx="572.89" cy="284.36" r="1.2" fill="#ff4a4a"/>
<circle cx="575.17" cy="285.85" r="1.2" fill="#ff4a4a"/>
<circle cx="578.15" cy="278.00" r="1.2" fill="#ff4a4a"/>
<circle cx="580.60" cy="278.66" r="1.2" fill="#ff4a4a"/>
<circle cx="583.41" cy="267.67" r="1.2" fill="#ff4a4a"/>
<circle cx="585.52" cy="264.01" r="1.2" fill="#ff4a4a"/>
<circle cx="382.60" cy="253.15" r="1.2" fill="#1a2fd6"/>
<circle cx="384.64" cy="266.56" r="1.2" fill="#1a2fd6"/>
<circle cx="387.83" cy="277.69" r="1.2" fill="#1a2fd6"/>
<circle cx="390.52" cy="281.86" r="1.2" fill="#1a2fd6"/>
<circle cx="392.50" cy="282.85" r="1.2" fill="#1a2fd6"/>
<circle cx="394.28" cy="287.22" r="1.2" fill="#1a2fd6"/>
<circle cx="397.07" cy="287.73" r="1.2" fill="#1a2fd6"/>
<circle cx="398.46" cy="289.50" r="1.2" fill="#1a2fd6"/>
<circle cx="400.84" cy="281.30" r="1.2" fill="#1a2fd6"/>
<circle cx="402.83" cy="277.97" r="1.2" fill="#1a2fd6"/>
<circle cx="406.01" cy="271.26" r="1.2" fill="#1a2fd6"/>
<circle cx="407.35" cy="265.93" r="1.2" fill="#1a2fd6"/>
<circle cx="410.37" cy="253.95" r="1.2" fill="#1a2fd6"/>
<circle cx="412.33" cy="246.76" r="1.2" fill="#1a2fd6"/>
<circle cx="413.99" cy="244.25" r="1.2" fill="#1a2fd6"/>
<circle cx="416.73" cy="229.50" r="1.2" fill="#1a2fd6"/>
<circle cx="419.55" cy="232.56" r="1.2" fill="#1a2fd6"/>
<circle cx="422.20" cy="229.23" r="1.2" fill="#1a2fd6"/>
<circle cx="423.45" cy="231.96" r="1.2" fill="#1a2fd6"/>
<circle cx="426.86" cy="236.84" r="1.2" fill="#1a2fd6"/>
<circle cx="427.63" cy="237.42" r="1.2" fill="#1a2fd6"/>
<circle cx="430.66" cy="247.12" r="1.2" fill="#1a2fd6"/>
<circle cx="432.54" cy="252.55" r="1.2" fill="#1a2fd6"/>
<circle cx="435.47" cy="266.37" r="1.2" fill="#1a2fd6"/>
<circle cx="436.73" cy="268.57" r="1.2" fill="#1a2fd6"/>
<circle cx="439.48" cy="274.85" r="1.2" fill="#1a2fd6"/>
<circle cx="441.53" cy="284.36" r="1.2" fill="#1a2fd6"/>
<circle cx="444.76" cy="287.36" r="1.2" fill="#1a2fd6"/>
<circle cx="446.08" cy="285.63" r="1.2" fill="#1a2fd6"/>
<circle cx="449.57" cy="284.87" r="1.2" fill="#1a2fd6"/>
<circle cx="450.66" cy="288.56" r="1.2" fill="#1a2fd6"/>
<circle cx="452.91" cy="280.14" r="1.2" fill="#1a2fd6"/>
<circle cx="456.35" cy="268.02" r="1.2" fill="#1a2fd6"/>
<circle cx="457.89" cy="265.18" r="1.2" fill="#1a2fd6"/>
<circle cx="460.04" cy="258.41" r="1.2" fill="#1a2fd6"/>
<circle cx="462.70" cy="248.97" r="1.2" fill="#1a2fd6"/>
<circle cx="464.54" cy="241.77" r="1.2" fill="#1a2fd6"/>
<circle cx="466.52" cy="238.28" r="1.2" fill="#1a2fd6"/>
<circle cx="468.53" cy="233.09" r="1.2" fill="#1a2fd6"/>
<circle cx="470.81" cy="227.25" r="1.2" fill="#1a2fd6"/>
<circle cx="474.40" cy="234.73" r="1.2" fill="#1a2fd6"/>
<circle cx="476.43" cy="239.82" r="1.2" fill="#1a2fd6"/>
<circle cx="478.05" cy="238.10" r="1.2" fill="#1a2fd6"/>
<circle cx="480.09" cy="247.06" r="1.2" fill="#1a2fd6"/>
<circle cx="482.12" cy="248.76" r="1.2" fill="#1a2fd6"/>
<circle cx="485.40" cy="260.17" r="1.2" fill="#1a2fd6"/>
<circle cx="487.14" cy="269.26" r="1.2" fill="#1a2fd6"/>
<circle cx="489.14" cy="276.10" r="1.2" fill="#1a2fd6"/>
<circle cx="491.71" cy="281.31" r="1.2" fill="#1a2fd6"/>
<circle cx="494.94" cy="290.95" r="1.2" fill="#1a2fd6"/>
<circle cx="496.01" cy="291.81" r="1.2" fill="#1a2fd6"/>
<circle cx="498.52" cy="289.84" r="1.2" fill="#1a2fd6"/>
<circle cx="500.91" cy="282.05" r="1.2" fill="#1a2fd6"/>
<circle cx="502.57" cy="280.67" r="1.2" fill="#1a2fd6"/>
<circle cx="506.23" cy="273.35" r="1.2" fill="#1a2fd6"/>
<circle cx="507.34" cy="266.31" r="1.2" fill="#1a2fd6"/>
<circle cx="509.35" cy="265.96" r="1.2" fill="#1a2fd6"/>
<circle cx="512.23" cy="253.67" r="1.2" fill="#1a2fd6"/>
<circle cx="513.91" cy="243.18" r="1.2" fill="#1a2fd6"/>
<circle cx="516.17" cy="244.59" r="1.2" fill="#1a2fd6"/>
<circle cx="518.79" cy="236.13" r="1.2" fill="#1a2fd6"/>
<circle cx="521.85" cy="232.45" r="1.2" fill="#1a2fd6"/>
<circle cx="523.35" cy="229.45" r="1.2" fill="#1a2fd6"/>
<circle cx="526.72" cy="232.48" r="1.2" fill="#1a2fd6"/>
<circle cx="528.61" cy="236.33" r="1.2" fill="#1a2fd6"/>
<circle cx="530.23" cy="241.63" r="1.2" fill="#1a2fd6"/>
<circle cx="533.21" cy="251.19" r="1.2" fill="#1a2fd6"/>
<circle cx="535.73" cy="256.37" r="1.2" fill="#1a2fd6"/>
<circle cx="536.58" cy="258.95" r="1.2" fill="#1a2fd6"/>
<circle cx="539.18" cy="266.31" r="1.2" fill="#1a2fd6"/>
<circle cx="542.60" cy="282.24" r="1.2" fill="#1a2fd6"/>
<circle cx="543.96" cy="284.20" r="1.2" fill="#1a2fd6"/>
<circle cx="546.41" cy="289.82" r="1.2" fill="#1a2fd6"/>
<circle cx="549.37" cy="289.68" r="1.2" fill="#1a2fd6"/>
<circle cx="551.34" cy="289.94" r="1.2" fill="#1a2fd6"/>
<circle cx="553.74" cy="282.51" r="1.2" fill="#1a2fd6"/>
<circle cx="555.22" cy="275.47" r="1.2" fill="#1a2fd6"/>
<circle cx="557.48" cy="269.26" r="1.2" fill="#1a2fd6"/>
<circle cx="559.36" cy="268.32" r="1.2" fill="#1a2fd6"/>
<circle cx="561.82" cy="256.70" r="1.2" fill="#1a2fd6"/>
<circle cx="563.88" cy="247.88" r="1.2" fill="#1a2fd6"/>
<circle cx="566.10" cy="240.72" r="1.2" fill="#1a2fd6"/>
<circle cx="569.88" cy="233.20" r="1.2" fill="#1a2fd6"/>
<circle cx="572.00" cy="233.00" r="1.2" fill="#1a2fd6"/>
<circle cx="572.99" cy="230.60" r="1.2" fill="#1a2fd6"/>
<circle cx="575.28" cy="227.65" r="1.2" fill="#1a2fd6"/>
<circle cx="578.11" cy="234.71" r="1.2" fill="#1a2fd6"/>
<circle cx="580.04" cy="236.22" r="1.2" fill="#1a2fd6"/>
<circle cx="583.01" cy="249.04" r="1.2" fill="#1a2fd6"/>
<circle cx="585.40" cy="257.52" r="1.2" fill="#1a2fd6"/>
<polyline points="382.60,339.66 382.94,341.01 383.28,342.36 383.62,343.70 383.95,345.05 384.29,346.39 384.63,347.72 384.97,349.04 385.31,350.35 385.65,351.65 385.98,352.92 386.32,354.18 386.66,355.42 387.00,356.63 387.34,357.82 387.68,358.98 388.01,360.11 388.35,361.21 388.69,362.28 389.03,363.31 389.37,364.30 389.71,365.25 390.04,366.17 390.38,367.04 390.72,367.86 391.06,368.64 391.40,369.38 391.74,370.06 392.07,370.70 392.41,371.29 392.75,371.82 393.09,372.30 393.43,372.73 393.77,373.11 394.10,373.43 394.44,373.69 394.78,373.90 395.12,374.06 395.46,374.16 395.80,374.20 396.13,374.18 396.47,374.11 396.81,373.98 397.15,373.80 397.49,373.56 397.83,373.27 398.16,372.92 398.50,372.51 398.84,372.05 399.18,371.54 399.52,370.98 399.86,370.37 400.19,369.71 400.53,369.00 400.87,368.24 401.21,367.43 401.55,366.58 401.89,365.69 402.22,364.76 402.56,363.78 402.90,362.77 403.24,361.72 403.58,360.64 403.92,359.52 404.25,358.38 404.59,357.20 404.93,356.00 405.27,354.77 405.61,353.52 405.95,352.25 406.28,350.97 406.62,349.66 406.96,348.35 407.30,347.02 407.64,345.68 407.98,344.34 408.31,342.99 408.65,341.64 408.99,340.30 409.33,338.95 409.67,337.61 410.00,336.28 410.34,334.96 410.68,333.65 411.02,332.35 411.36,331.08 411.70,329.82 412.04,328.58 412.37,327.37 412.71,326.18 413.05,325.02 413.39,323.89 413.73,322.79 414.06,321.72 414.40,320.69 414.74,319.70 415.08,318.75 415.42,317.83 415.76,316.96 416.10,316.14 416.43,315.36 416.77,314.62 417.11,313.94 417.45,313.30 417.79,312.71 418.12,312.18 418.46,311.70 418.80,311.27 419.14,310.89 419.48,310.57 419.82,310.31 420.16,310.10 420.49,309.94 420.83,309.84 421.17,309.80 421.51,309.82 421.85,309.89 422.19,310.02 422.52,310.20 422.86,310.44 423.20,310.73 423.54,311.08 423.88,311.49 424.22,311.95 424.55,312.46 424.89,313.02 425.23,313.63 425.57,314.29 425.91,315.00 426.25,315.76 426.58,316.57 426.92,317.42 427.26,318.31 427.60,319.24 427.94,320.22 428.28,321.23 428.61,322.28 428.95,323.36 429.29,324.48 429.63,325.62 429.97,326.80 430.31,328.00 430.64,329.23 430.98,330.48 431.32,331.75 431.66,333.03 432.00,334.34 432.34,335.65 432.67,336.98 433.01,338.32 433.35,339.66 433.69,341.01 434.03,342.36 434.37,343.70 434.70,345.05 435.04,346.39 435.38,347.72 435.72,349.04 436.06,350.35 436.40,351.65 436.73,352.92 437.07,354.18 437.41,355.42 437.75,356.63 438.09,357.82 438.43,358.98 438.76,360.11 439.10,361.21 439.44,362.28 439.78,363.31 440.12,364.30 440.46,365.25 440.79,366.17 441.13,367.04 441.47,367.86 441.81,368.64 442.15,369.38 442.49,370.06 442.82,370.70 443.16,371.29 443.50,371.82 443.84,372.30 444.18,372.73 444.52,373.11 444.85,373.43 445.19,373.69 445.53,373.90 445.87,374.06 446.21,374.16 446.55,374.20 446.88,374.18 447.22,374.11 447.56,373.98 447.90,373.80 448.24,373.56 448.58,373.27 448.91,372.92 449.25,372.51 449.59,372.05 449.93,371.54 450.27,370.98 450.61,370.37 450.94,369.71 451.28,369.00 451.62,368.24 451.96,367.43 452.30,366.58 452.63,365.69 452.97,364.76 453.31,363.78 453.65,362.77 453.99,361.72 454.33,360.64 454.67,359.52 455.00,358.38 455.34,357.20 455.68,356.00 456.02,354.77 456.36,353.52 456.70,352.25 457.03,350.97 457.37,349.66 457.71,348.35 458.05,347.02 458.39,345.68 458.73,344.34 459.06,342.99 459.40,341.64 459.74,340.30 460.08,338.95 460.42,337.61 460.75,336.28 461.09,334.96 461.43,333.65 461.77,332.35 462.11,331.08 462.45,329.82 462.79,328.58 463.12,327.37 463.46,326.18 463.80,325.02 464.14,323.89 464.48,322.79 464.82,321.72 465.15,320.69 465.49,319.70 465.83,318.75 466.17,317.83 466.51,316.96 466.85,316.14 467.18,315.36 467.52,314.62 467.86,313.94 468.20,313.30 468.54,312.71 468.88,312.18 469.21,311.70 469.55,311.27 469.89,310.89 470.23,310.57 470.57,310.31 470.91,310.10 471.24,309.94 471.58,309.84 471.92,309.80 472.26,309.82 472.60,309.89 472.94,310.02 473.27,310.20 473.61,310.44 473.95,310.73 474.29,311.08 474.63,311.49 474.97,311.95 475.30,312.46 475.64,313.02 475.98,313.63 476.32,314.29 476.66,315.00 477.00,315.76 477.33,316.57 477.67,317.42 478.01,318.31 478.35,319.24 478.69,320.22 479.03,321.23 479.36,322.28 479.70,323.36 480.04,324.48 480.38,325.62 480.72,326.80 481.06,328.00 481.39,329.23 481.73,330.48 482.07,331.75 482.41,333.03 482.75,334.34 483.09,335.65 483.42,336.98 483.76,338.32 484.10,339.66 484.44,341.01 484.78,342.36 485.12,343.70 485.45,345.05 485.79,346.39 486.13,347.72 486.47,349.04 486.81,350.35 487.15,351.65 487.48,352.92 487.82,354.18 488.16,355.42 488.50,356.63 488.84,357.82 489.18,358.98 489.51,360.11 489.85,361.21 490.19,362.28 490.53,363.31 490.87,364.30 491.21,365.25 491.54,366.17 491.88,367.04 492.22,367.86 492.56,368.64 492.90,369.38 493.24,370.06 493.57,370.70 493.91,371.29 494.25,371.82 494.59,372.30 494.93,372.73 495.27,373.11 495.60,373.43 495.94,373.69 496.28,373.90 496.62,374.06 496.96,374.16 497.30,374.20 497.63,374.18 497.97,374.11 498.31,373.98 498.65,373.80 498.99,373.56 499.33,373.27 499.66,372.92 500.00,372.51 500.34,372.05 500.68,371.54 501.02,370.98 501.36,370.37 501.69,369.71 502.03,369.00 502.37,368.24 502.71,367.43 503.05,366.58 503.38,365.69 503.72,364.76 504.06,363.78 504.40,362.77 504.74,361.72 505.08,360.64 505.42,359.52 505.75,358.38 506.09,357.20 506.43,356.00 506.77,354.77 507.11,353.52 507.45,352.25 507.78,350.97 508.12,349.66 508.46,348.35 508.80,347.02 509.14,345.68 509.48,344.34 509.81,342.99 510.15,341.64 510.49,340.30 510.83,338.95 511.17,337.61 511.50,336.28 511.84,334.96 512.18,333.65 512.52,332.35 512.86,331.08 513.20,329.82 513.54,328.58 513.87,327.37 514.21,326.18 514.55,325.02 514.89,323.89 515.23,322.79 515.57,321.72 515.90,320.69 516.24,319.70 516.58,318.75 516.92,317.83 517.26,316.96 517.60,316.14 517.93,315.36 518.27,314.62 518.61,313.94 518.95,313.30 519.29,312.71 519.62,312.18 519.96,311.70 520.30,311.27 520.64,310.89 520.98,310.57 521.32,310.31 521.65,310.10 521.99,309.94 522.33,309.84 522.67,309.80 523.01,309.82 523.35,309.89 523.69,310.02 524.02,310.20 524.36,310.44 524.70,310.73 525.04,311.08 525.38,311.49 525.72,311.95 526.05,312.46 526.39,313.02 526.73,313.63 527.07,314.29 527.41,315.00 527.75,315.76 528.08,316.57 528.42,317.42 528.76,318.31 529.10,319.24 529.44,320.22 529.78,321.23 530.11,322.28 530.45,323.36 530.79,324.48 531.13,325.62 531.47,326.80 531.81,328.00 532.14,329.23 532.48,330.48 532.82,331.75 533.16,333.03 533.50,334.34 533.84,335.65 534.17,336.98 534.51,338.32 534.85,339.66 535.19,341.01 535.53,342.36 535.87,343.70 536.20,345.05 536.54,346.39 536.88,347.72 537.22,349.04 537.56,350.35 537.89,351.65 538.23,352.92 538.57,354.18 538.91,355.42 539.25,356.63 539.59,357.82 539.92,358.98 540.26,360.11 540.60,361.21 540.94,362.28 541.28,363.31 541.62,364.30 541.96,365.25 542.29,366.17 542.63,367.04 542.97,367.86 543.31,368.64 543.65,369.38 543.99,370.06 544.32,370.70 544.66,371.29 545.00,371.82 545.34,372.30 545.68,372.73 546.01,373.11 546.35,373.43 546.69,373.69 547.03,373.90 547.37,374.06 547.71,374.16 548.05,374.20 548.38,374.18 548.72,374.11 549.06,373.98 549.40,373.80 549.74,373.56 550.08,373.27 550.41,372.92 550.75,372.51 551.09,372.05 551.43,371.54 551.77,370.98 552.11,370.37 552.44,369.71 552.78,369.00 553.12,368.24 553.46,367.43 553.80,366.58 554.13,365.69 554.47,364.76 554.81,363.78 555.15,362.77 555.49,361.72 555.83,360.64 556.16,359.52 556.50,358.38 556.84,357.20 557.18,356.00 557.52,354.77 557.86,353.52 558.20,352.25 558.53,350.97 558.87,349.66 559.21,348.35 559.55,347.02 559.89,345.68 560.23,344.34 560.56,342.99 560.90,341.64 561.24,340.30 561.58,338.95 561.92,337.61 562.25,336.28 562.59,334.96 562.93,333.65 563.27,332.35 563.61,331.08 563.95,329.82 564.29,328.58 564.62,327.37 564.96,326.18 565.30,325.02 565.64,323.89 565.98,322.79 566.32,321.72 566.65,320.69 566.99,319.70 567.33,318.75 567.67,317.83 568.01,316.96 568.35,316.14 568.68,315.36 569.02,314.62 569.36,313.94 569.70,313.30 570.04,312.71 570.38,312.18 570.71,311.70 571.05,311.27 571.39,310.89 571.73,310.57 572.07,310.31 572.40,310.10 572.74,309.94 573.08,309.84 573.42,309.80 573.76,309.82 574.10,309.89 574.44,310.02 574.77,310.20 575.11,310.44 575.45,310.73 575.79,311.08 576.13,311.49 576.47,311.95 576.80,312.46 577.14,313.02 577.48,313.63 577.82,314.29 578.16,315.00 578.50,315.76 578.83,316.57 579.17,317.42 579.51,318.31 579.85,319.24 580.19,320.22 580.53,321.23 580.86,322.28 581.20,323.36 581.54,324.48 581.88,325.62 582.22,326.80 582.56,328.00 582.89,329.23 583.23,330.48 583.57,331.75 583.91,333.03 584.25,334.34 584.59,335.65 584.92,336.98 585.26,338.32 585.60,339.66" fill="none" stroke="#000" stroke-width="2.1" stroke-linejoin="round" stroke-linecap="round"/>
<circle cx="382.39" cy="336.42" r="1.2" fill="#000"/>
<circle cx="385.95" cy="352.10" r="1.2" fill="#000"/>
<circle cx="387.61" cy="361.24" r="1.2" fill="#000"/>
<circle cx="390.60" cy="368.04" r="1.2" fill="#000"/>
<circle cx="392.21" cy="372.38" r="1.2" fill="#000"/>
<circle cx="394.47" cy="375.68" r="1.2" fill="#000"/>
<circle cx="397.15" cy="372.05" r="1.2" fill="#000"/>
<circle cx="399.67" cy="373.09" r="1.2" fill="#000"/>
<circle cx="401.81" cy="365.78" r="1.2" fill="#000"/>
<circle cx="405.14" cy="351.75" r="1.2" fill="#000"/>
<circle cx="406.41" cy="345.44" r="1.2" fill="#000"/>
<circle cx="409.41" cy="340.23" r="1.2" fill="#000"/>
<circle cx="412.52" cy="323.37" r="1.2" fill="#000"/>
<circle cx="413.53" cy="323.16" r="1.2" fill="#000"/>
<circle cx="416.17" cy="316.93" r="1.2" fill="#000"/>
<circle cx="419.83" cy="306.30" r="1.2" fill="#000"/>
<circle cx="421.27" cy="307.50" r="1.2" fill="#000"/>
<circle cx="424.47" cy="310.85" r="1.2" fill="#000"/>
<circle cx="426.73" cy="317.42" r="1.2" fill="#000"/>
<circle cx="429.40" cy="326.98" r="1.2" fill="#000"/>
<circle cx="431.29" cy="333.28" r="1.2" fill="#000"/>
<circle cx="433.05" cy="337.71" r="1.2" fill="#000"/>
<circle cx="435.43" cy="348.73" r="1.2" fill="#000"/>
<circle cx="437.92" cy="354.88" r="1.2" fill="#000"/>
<circle cx="440.24" cy="362.95" r="1.2" fill="#000"/>
<circle cx="442.34" cy="368.36" r="1.2" fill="#000"/>
<circle cx="445.02" cy="376.23" r="1.2" fill="#000"/>
<circle cx="447.63" cy="374.98" r="1.2" fill="#000"/>
<circle cx="450.41" cy="374.14" r="1.2" fill="#000"/>
<circle cx="452.04" cy="368.85" r="1.2" fill="#000"/>
<circle cx="455.22" cy="358.81" r="1.2" fill="#000"/>
<circle cx="457.77" cy="349.12" r="1.2" fill="#000"/>
<circle cx="460.27" cy="338.86" r="1.2" fill="#000"/>
<circle cx="462.21" cy="330.33" r="1.2" fill="#000"/>
<circle cx="465.49" cy="321.39" r="1.2" fill="#000"/>
<circle cx="466.87" cy="314.37" r="1.2" fill="#000"/>
<circle cx="469.44" cy="310.64" r="1.2" fill="#000"/>
<circle cx="472.56" cy="311.78" r="1.2" fill="#000"/>
<circle cx="473.90" cy="310.64" r="1.2" fill="#000"/>
<circle cx="477.15" cy="316.19" r="1.2" fill="#000"/>
<circle cx="479.83" cy="324.00" r="1.2" fill="#000"/>
<circle cx="481.47" cy="330.40" r="1.2" fill="#000"/>
<circle cx="484.61" cy="339.86" r="1.2" fill="#000"/>
<circle cx="486.34" cy="348.73" r="1.2" fill="#000"/>
<circle cx="488.89" cy="358.31" r="1.2" fill="#000"/>
<circle cx="491.44" cy="366.62" r="1.2" fill="#000"/>
<circle cx="493.81" cy="370.66" r="1.2" fill="#000"/>
<circle cx="495.82" cy="372.48" r="1.2" fill="#000"/>
<circle cx="498.08" cy="374.05" r="1.2" fill="#000"/>
<circle cx="500.87" cy="372.09" r="1.2" fill="#000"/>
<circle cx="503.22" cy="365.69" r="1.2" fill="#000"/>
<circle cx="506.13" cy="358.36" r="1.2" fill="#000"/>
<circle cx="507.45" cy="351.96" r="1.2" fill="#000"/>
<circle cx="511.16" cy="339.90" r="1.2" fill="#000"/>
<circle cx="512.14" cy="333.45" r="1.2" fill="#000"/>
<circle cx="515.94" cy="317.27" r="1.2" fill="#000"/>
<circle cx="517.86" cy="318.33" r="1.2" fill="#000"/>
<circle cx="520.59" cy="312.82" r="1.2" fill="#000"/>
<circle cx="522.03" cy="312.90" r="1.2" fill="#000"/>
<circle cx="524.73" cy="312.90" r="1.2" fill="#000"/>
<circle cx="526.78" cy="310.63" r="1.2" fill="#000"/>
<circle cx="529.24" cy="317.69" r="1.2" fill="#000"/>
<circle cx="531.91" cy="329.80" r="1.2" fill="#000"/>
<circle cx="533.90" cy="335.95" r="1.2" fill="#000"/>
<circle cx="537.54" cy="353.50" r="1.2" fill="#000"/>
<circle cx="538.58" cy="351.09" r="1.2" fill="#000"/>
<circle cx="540.98" cy="361.10" r="1.2" fill="#000"/>
<circle cx="544.66" cy="373.28" r="1.2" fill="#000"/>
<circle cx="546.60" cy="375.45" r="1.2" fill="#000"/>
<circle cx="549.13" cy="373.23" r="1.2" fill="#000"/>
<circle cx="551.47" cy="373.44" r="1.2" fill="#000"/>
<circle cx="553.62" cy="365.85" r="1.2" fill="#000"/>
<circle cx="556.04" cy="358.10" r="1.2" fill="#000"/>
<circle cx="557.79" cy="352.09" r="1.2" fill="#000"/>
<circle cx="560.53" cy="341.55" r="1.2" fill="#000"/>
<circle cx="563.78" cy="330.85" r="1.2" fill="#000"/>
<circle cx="565.25" cy="323.01" r="1.2" fill="#000"/>
<circle cx="568.12" cy="317.49" r="1.2" fill="#000"/>
<circle cx="570.46" cy="312.71" r="1.2" fill="#000"/>
<circle cx="572.32" cy="307.91" r="1.2" fill="#000"/>
<circle cx="574.65" cy="310.98" r="1.2" fill="#000"/>
<circle cx="578.00" cy="317.51" r="1.2" fill="#000"/>
<circle cx="580.63" cy="323.17" r="1.2" fill="#000"/>
<circle cx="582.61" cy="330.44" r="1.2" fill="#000"/>
<circle cx="584.80" cy="337.31" r="1.2" fill="#000"/>
</svg></body></html>
